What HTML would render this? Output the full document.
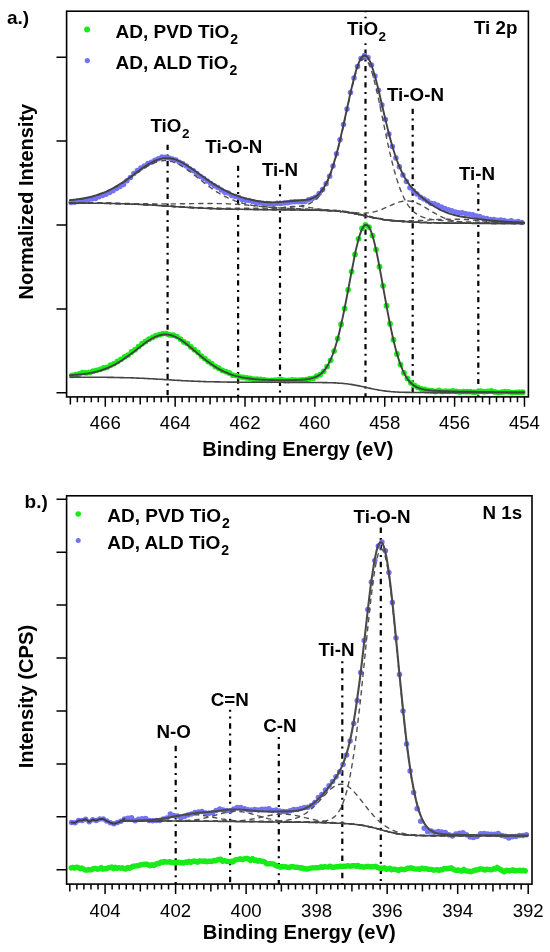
<!DOCTYPE html>
<html><head><meta charset="utf-8"><style>html,body{margin:0;padding:0;background:#fff}svg{display:block}</style></head>
<body><svg width="550" height="952" viewBox="0 0 550 952">
<rect width="550" height="952" fill="#fff"/>
<defs><clipPath id="ca"><rect x="66.6" y="11.2" width="461.8" height="385.7"/></clipPath><clipPath id="cb"><rect x="66.6" y="495.8" width="465.4" height="388.3"/></clipPath></defs>
<g clip-path="url(#ca)">
<line x1="167.60" y1="144.7" x2="167.60" y2="397" stroke="#000" stroke-width="2.2" stroke-dasharray="5.2 4.6 2 4.56" stroke-dashoffset="0"/>
<line x1="238.10" y1="165.8" x2="238.10" y2="397" stroke="#000" stroke-width="2.2" stroke-dasharray="5.2 4.6 2 4.56" stroke-dashoffset="0"/>
<line x1="280.00" y1="184.5" x2="280.00" y2="397" stroke="#000" stroke-width="2.2" stroke-dasharray="5.2 4.6 2 4.56" stroke-dashoffset="0"/>
<line x1="365.50" y1="0.5" x2="365.50" y2="397" stroke="#000" stroke-width="2.2" stroke-dasharray="5.2 4.6 2 4.56" stroke-dashoffset="0"/>
<line x1="412.70" y1="108.7" x2="412.70" y2="397" stroke="#000" stroke-width="2.2" stroke-dasharray="5.2 4.6 2 4.56" stroke-dashoffset="0"/>
<line x1="478.30" y1="184" x2="478.30" y2="397" stroke="#000" stroke-width="2.2" stroke-dasharray="5.2 4.6 2 4.56" stroke-dashoffset="1.4"/>
<g fill="#7272f2"><circle cx="71.1" cy="202.5" r="2.75"/><circle cx="74.6" cy="202.2" r="2.75"/><circle cx="78.1" cy="201.6" r="2.75"/><circle cx="81.5" cy="200.8" r="2.75"/><circle cx="85.0" cy="200.4" r="2.75"/><circle cx="88.5" cy="199.5" r="2.75"/><circle cx="92.0" cy="199.0" r="2.75"/><circle cx="95.5" cy="198.5" r="2.75"/><circle cx="99.0" cy="196.7" r="2.75"/><circle cx="102.5" cy="195.4" r="2.75"/><circle cx="106.0" cy="194.3" r="2.75"/><circle cx="109.5" cy="192.6" r="2.75"/><circle cx="113.0" cy="190.7" r="2.75"/><circle cx="116.5" cy="188.4" r="2.75"/><circle cx="120.0" cy="186.6" r="2.75"/><circle cx="123.5" cy="184.6" r="2.75"/><circle cx="127.0" cy="180.8" r="2.75"/><circle cx="130.4" cy="177.6" r="2.75"/><circle cx="133.9" cy="173.4" r="2.75"/><circle cx="137.4" cy="170.5" r="2.75"/><circle cx="140.9" cy="167.9" r="2.75"/><circle cx="144.4" cy="166.1" r="2.75"/><circle cx="147.9" cy="163.6" r="2.75"/><circle cx="151.4" cy="162.2" r="2.75"/><circle cx="154.9" cy="160.3" r="2.75"/><circle cx="158.4" cy="158.8" r="2.75"/><circle cx="161.9" cy="157.0" r="2.75"/><circle cx="165.4" cy="157.2" r="2.75"/><circle cx="168.9" cy="158.0" r="2.75"/><circle cx="172.4" cy="159.1" r="2.75"/><circle cx="175.9" cy="160.1" r="2.75"/><circle cx="179.4" cy="162.2" r="2.75"/><circle cx="182.8" cy="163.8" r="2.75"/><circle cx="186.3" cy="166.0" r="2.75"/><circle cx="189.8" cy="168.9" r="2.75"/><circle cx="193.3" cy="170.7" r="2.75"/><circle cx="196.8" cy="173.5" r="2.75"/><circle cx="200.3" cy="176.4" r="2.75"/><circle cx="203.8" cy="178.4" r="2.75"/><circle cx="207.3" cy="181.1" r="2.75"/><circle cx="210.8" cy="183.5" r="2.75"/><circle cx="214.3" cy="185.8" r="2.75"/><circle cx="217.8" cy="187.5" r="2.75"/><circle cx="221.3" cy="190.0" r="2.75"/><circle cx="224.8" cy="192.3" r="2.75"/><circle cx="228.3" cy="193.0" r="2.75"/><circle cx="231.7" cy="195.4" r="2.75"/><circle cx="235.2" cy="196.5" r="2.75"/><circle cx="238.7" cy="197.5" r="2.75"/><circle cx="242.2" cy="199.6" r="2.75"/><circle cx="245.7" cy="200.2" r="2.75"/><circle cx="249.2" cy="200.4" r="2.75"/><circle cx="252.7" cy="201.6" r="2.75"/><circle cx="256.2" cy="202.4" r="2.75"/><circle cx="259.7" cy="202.7" r="2.75"/><circle cx="263.2" cy="203.5" r="2.75"/><circle cx="266.7" cy="203.5" r="2.75"/><circle cx="270.2" cy="203.9" r="2.75"/><circle cx="273.7" cy="204.2" r="2.75"/><circle cx="277.2" cy="203.3" r="2.75"/><circle cx="280.6" cy="203.4" r="2.75"/><circle cx="284.1" cy="202.9" r="2.75"/><circle cx="287.6" cy="202.7" r="2.75"/><circle cx="291.1" cy="201.9" r="2.75"/><circle cx="294.6" cy="201.8" r="2.75"/><circle cx="298.1" cy="201.7" r="2.75"/><circle cx="301.6" cy="201.8" r="2.75"/><circle cx="305.1" cy="201.4" r="2.75"/><circle cx="308.6" cy="199.8" r="2.75"/><circle cx="312.1" cy="198.8" r="2.75"/><circle cx="315.6" cy="197.3" r="2.75"/><circle cx="319.1" cy="193.4" r="2.75"/><circle cx="322.6" cy="189.6" r="2.75"/><circle cx="326.1" cy="183.7" r="2.75"/><circle cx="329.6" cy="176.2" r="2.75"/><circle cx="333.0" cy="166.1" r="2.75"/><circle cx="336.5" cy="153.7" r="2.75"/><circle cx="340.0" cy="139.8" r="2.75"/><circle cx="343.5" cy="124.5" r="2.75"/><circle cx="347.0" cy="109.0" r="2.75"/><circle cx="350.5" cy="92.4" r="2.75"/><circle cx="354.0" cy="78.0" r="2.75"/><circle cx="357.5" cy="66.4" r="2.75"/><circle cx="361.0" cy="58.4" r="2.75"/><circle cx="364.5" cy="55.4" r="2.75"/><circle cx="368.0" cy="57.5" r="2.75"/><circle cx="371.5" cy="65.1" r="2.75"/><circle cx="375.0" cy="76.0" r="2.75"/><circle cx="378.5" cy="90.2" r="2.75"/><circle cx="381.9" cy="104.9" r="2.75"/><circle cx="385.4" cy="119.6" r="2.75"/><circle cx="388.9" cy="134.0" r="2.75"/><circle cx="392.4" cy="146.4" r="2.75"/><circle cx="395.9" cy="157.9" r="2.75"/><circle cx="399.4" cy="166.7" r="2.75"/><circle cx="402.9" cy="175.1" r="2.75"/><circle cx="406.4" cy="181.4" r="2.75"/><circle cx="409.9" cy="187.8" r="2.75"/><circle cx="413.4" cy="190.9" r="2.75"/><circle cx="416.9" cy="194.0" r="2.75"/><circle cx="420.4" cy="197.3" r="2.75"/><circle cx="423.9" cy="198.9" r="2.75"/><circle cx="427.4" cy="200.9" r="2.75"/><circle cx="430.8" cy="203.3" r="2.75"/><circle cx="434.3" cy="203.8" r="2.75"/><circle cx="437.8" cy="205.2" r="2.75"/><circle cx="441.3" cy="206.9" r="2.75"/><circle cx="444.8" cy="208.6" r="2.75"/><circle cx="448.3" cy="209.7" r="2.75"/><circle cx="451.8" cy="210.8" r="2.75"/><circle cx="455.3" cy="212.0" r="2.75"/><circle cx="458.8" cy="212.7" r="2.75"/><circle cx="462.3" cy="212.8" r="2.75"/><circle cx="465.8" cy="213.8" r="2.75"/><circle cx="469.3" cy="214.3" r="2.75"/><circle cx="472.8" cy="214.8" r="2.75"/><circle cx="476.3" cy="216.1" r="2.75"/><circle cx="479.7" cy="216.6" r="2.75"/><circle cx="483.2" cy="218.1" r="2.75"/><circle cx="486.7" cy="218.6" r="2.75"/><circle cx="490.2" cy="219.4" r="2.75"/><circle cx="493.7" cy="219.6" r="2.75"/><circle cx="497.2" cy="220.2" r="2.75"/><circle cx="500.7" cy="219.9" r="2.75"/><circle cx="504.2" cy="220.6" r="2.75"/><circle cx="507.7" cy="221.4" r="2.75"/><circle cx="511.2" cy="220.8" r="2.75"/><circle cx="514.7" cy="222.1" r="2.75"/><circle cx="518.2" cy="221.5" r="2.75"/><circle cx="521.7" cy="222.5" r="2.75"/></g>
<polyline points="70.0,202.9 71.4,202.9 72.8,202.9 74.2,202.9 75.6,202.9 77.0,202.9 78.4,202.9 79.8,202.9 81.2,202.9 82.6,202.9 84.0,202.9 85.4,202.9 86.8,202.9 88.2,203.0 89.6,203.0 91.0,203.0 92.4,203.0 93.8,203.0 95.2,203.0 96.6,203.0 98.0,203.0 99.4,203.0 100.8,203.1 102.2,203.1 103.6,203.1 105.0,203.1 106.3,203.1 107.7,203.2 109.1,203.2 110.5,203.2 111.9,203.2 113.3,203.3 114.7,203.3 116.1,203.3 117.5,203.4 118.9,203.4 120.3,203.4 121.7,203.5 123.1,203.5 124.5,203.5 125.9,203.6 127.3,203.6 128.7,203.7 130.1,203.7 131.5,203.8 132.9,203.8 134.3,203.9 135.7,203.9 137.1,204.0 138.5,204.1 139.9,204.1 141.3,204.2 142.7,204.2 144.1,204.3 145.5,204.4 146.9,204.5 148.3,204.5 149.7,204.6 151.1,204.7 152.5,204.8 153.9,204.8 155.2,204.9 156.6,205.0 158.0,205.1 159.4,205.2 160.8,205.3 162.2,205.4 163.6,205.4 165.0,205.5 166.4,205.6 167.8,205.7 169.2,205.8 170.6,205.9 172.0,206.0 173.4,206.1 174.8,206.2 176.2,206.2 177.6,206.3 179.0,206.4 180.4,206.5 181.8,206.6 183.2,206.7 184.6,206.7 186.0,206.8 187.4,206.9 188.8,207.0 190.2,207.0 191.6,207.1 193.0,207.2 194.4,207.2 195.8,207.3 197.2,207.4 198.6,207.4 200.0,207.5 201.4,207.5 202.8,207.6 204.2,207.6 205.5,207.7 206.9,207.7 208.3,207.8 209.7,207.8 211.1,207.9 212.5,207.9 213.9,207.9 215.3,208.0 216.7,208.0 218.1,208.0 219.5,208.1 220.9,208.1 222.3,208.1 223.7,208.1 225.1,208.2 226.5,208.2 227.9,208.2 229.3,208.2 230.7,208.2 232.1,208.3 233.5,208.3 234.9,208.3 236.3,208.3 237.7,208.3 239.1,208.3 240.5,208.3 241.9,208.3 243.3,208.3 244.7,208.3 246.1,208.3 247.5,208.3 248.9,208.3 250.3,208.3 251.7,208.3 253.1,208.3 254.5,208.2 255.8,208.2 257.2,208.2 258.6,208.2 260.0,208.2 261.4,208.2 262.8,208.1 264.2,208.1 265.6,208.1 267.0,208.1 268.4,208.0 269.8,208.0 271.2,208.0 272.6,207.9 274.0,207.9 275.4,207.9 276.8,207.8 278.2,207.8 279.6,207.7 281.0,207.7 282.4,207.6 283.8,207.6 285.2,207.5 286.6,207.4 288.0,207.3 289.4,207.3 290.8,207.2 292.2,207.1 293.6,206.9 295.0,206.8 296.4,206.7 297.8,206.5 299.2,206.3 300.6,206.1 302.0,205.8 303.4,205.5 304.8,205.2 306.1,204.8 307.5,204.3 308.9,203.8 310.3,203.1 311.7,202.4 313.1,201.5 314.5,200.6 315.9,199.5 317.3,198.2 318.7,196.7 320.1,195.0 321.5,193.1 322.9,191.0 324.3,188.6 325.7,186.0 327.1,183.0 328.5,179.8 329.9,176.2 331.3,172.3 332.7,168.1 334.1,163.6 335.5,158.7 336.9,153.6 338.3,148.1 339.7,142.4 341.1,136.4 342.5,130.3 343.9,124.0 345.3,117.6 346.7,111.2 348.1,104.8 349.5,98.5 350.9,92.3 352.3,86.5 353.7,80.9 355.0,75.9 356.4,71.3 357.8,67.3 359.2,64.0 360.6,61.5 362.0,59.7 363.4,58.9 364.8,58.9 366.2,59.8 367.6,61.6 369.0,64.2 370.4,67.6 371.8,71.7 373.2,76.5 374.6,81.8 376.0,87.6 377.4,93.7 378.8,100.2 380.2,106.9 381.6,113.6 383.0,120.5 384.4,127.3 385.8,134.1 387.2,140.7 388.6,147.1 390.0,153.3 391.4,159.2 392.8,164.8 394.2,170.2 395.6,175.1 397.0,179.8 398.4,184.1 399.8,188.0 401.2,191.7 402.6,195.0 404.0,198.0 405.3,200.7 406.7,203.1 408.1,205.3 409.5,207.2 410.9,208.9 412.3,210.4 413.7,211.7 415.1,212.9 416.5,213.9 417.9,214.8 419.3,215.6 420.7,216.2 422.1,216.8 423.5,217.4 424.9,217.8 426.3,218.2 427.7,218.5 429.1,218.9 430.5,219.1 431.9,219.4 433.3,219.6 434.7,219.8 436.1,219.9 437.5,220.1 438.9,220.3 440.3,220.4 441.7,220.5 443.1,220.6 444.5,220.7 445.9,220.8 447.3,220.9 448.7,221.0 450.1,221.1 451.5,221.2 452.9,221.3 454.3,221.3 455.6,221.4 457.0,221.5 458.4,221.5 459.8,221.6 461.2,221.7 462.6,221.7 464.0,221.8 465.4,221.8 466.8,221.9 468.2,221.9 469.6,222.0 471.0,222.0 472.4,222.0 473.8,222.1 475.2,222.1 476.6,222.2 478.0,222.2 479.4,222.2 480.8,222.3 482.2,222.3 483.6,222.3 485.0,222.4 486.4,222.4 487.8,222.4 489.2,222.5 490.6,222.5 492.0,222.5 493.4,222.5 494.8,222.6 496.2,222.6 497.6,222.6 499.0,222.6 500.4,222.7 501.8,222.7 503.2,222.7 504.5,222.7 505.9,222.7 507.3,222.8 508.7,222.8 510.1,222.8 511.5,222.8 512.9,222.8 514.3,222.8 515.7,222.9 517.1,222.9 518.5,222.9 519.9,222.9 521.3,222.9 522.7,222.9 524.1,222.9" fill="none" stroke="#505050" stroke-width="1.4" stroke-linejoin="round" stroke-linecap="round" stroke-dasharray="4.2 5"/>
<polyline points="70.0,200.2 71.4,200.1 72.8,200.0 74.2,199.8 75.6,199.7 77.0,199.5 78.4,199.3 79.8,199.1 81.2,198.9 82.6,198.7 84.0,198.4 85.4,198.2 86.8,197.9 88.2,197.6 89.6,197.3 91.0,197.0 92.4,196.6 93.8,196.2 95.2,195.9 96.6,195.4 98.0,195.0 99.4,194.5 100.8,194.0 102.2,193.5 103.6,193.0 105.0,192.4 106.3,191.8 107.7,191.2 109.1,190.5 110.5,189.9 111.9,189.2 113.3,188.4 114.7,187.7 116.1,186.9 117.5,186.1 118.9,185.3 120.3,184.4 121.7,183.5 123.1,182.6 124.5,181.7 125.9,180.8 127.3,179.9 128.7,178.9 130.1,177.9 131.5,177.0 132.9,176.0 134.3,175.0 135.7,174.0 137.1,173.0 138.5,172.1 139.9,171.1 141.3,170.2 142.7,169.3 144.1,168.3 145.5,167.5 146.9,166.6 148.3,165.8 149.7,165.1 151.1,164.3 152.5,163.7 153.9,163.1 155.2,162.5 156.6,162.0 158.0,161.6 159.4,161.2 160.8,161.0 162.2,160.8 163.6,160.6 165.0,160.6 166.4,160.6 167.8,160.8 169.2,161.0 170.6,161.3 172.0,161.6 173.4,162.1 174.8,162.6 176.2,163.2 177.6,163.8 179.0,164.5 180.4,165.3 181.8,166.1 183.2,167.0 184.6,167.9 186.0,168.9 187.4,169.8 188.8,170.9 190.2,171.9 191.6,173.0 193.0,174.1 194.4,175.2 195.8,176.3 197.2,177.4 198.6,178.5 200.0,179.6 201.4,180.7 202.8,181.8 204.2,182.9 205.5,183.9 206.9,185.0 208.3,186.0 209.7,187.0 211.1,188.0 212.5,189.0 213.9,189.9 215.3,190.9 216.7,191.8 218.1,192.6 219.5,193.5 220.9,194.3 222.3,195.1 223.7,195.8 225.1,196.5 226.5,197.2 227.9,197.9 229.3,198.5 230.7,199.1 232.1,199.7 233.5,200.2 234.9,200.8 236.3,201.3 237.7,201.7 239.1,202.2 240.5,202.6 241.9,203.0 243.3,203.4 244.7,203.7 246.1,204.1 247.5,204.4 248.9,204.7 250.3,204.9 251.7,205.2 253.1,205.4 254.5,205.7 255.8,205.9 257.2,206.1 258.6,206.3 260.0,206.4 261.4,206.6 262.8,206.7 264.2,206.9 265.6,207.0 267.0,207.2 268.4,207.3 269.8,207.4 271.2,207.5 272.6,207.6 274.0,207.7 275.4,207.8 276.8,207.8 278.2,207.9 279.6,208.0 281.0,208.1 282.4,208.1 283.8,208.2 285.2,208.3 286.6,208.3 288.0,208.4 289.4,208.4 290.8,208.5 292.2,208.5 293.6,208.6 295.0,208.6 296.4,208.7 297.8,208.7 299.2,208.8 300.6,208.8 302.0,208.9 303.4,208.9 304.8,209.0 306.1,209.0 307.5,209.0 308.9,209.1 310.3,209.1 311.7,209.2 313.1,209.2 314.5,209.3 315.9,209.3 317.3,209.3 318.7,209.4 320.1,209.4 321.5,209.5 322.9,209.6 324.3,209.6 325.7,209.7 327.1,209.7 328.5,209.8 329.9,209.9 331.3,210.0 332.7,210.1 334.1,210.2 335.5,210.3 336.9,210.4 338.3,210.6 339.7,210.7 341.1,210.9 342.5,211.0 343.9,211.2 345.3,211.4 346.7,211.6 348.1,211.8 349.5,212.0 350.9,212.3 352.3,212.5 353.7,212.8 355.0,213.1 356.4,213.4 357.8,213.7 359.2,214.0 360.6,214.3 362.0,214.6 363.4,214.9 364.8,215.3 366.2,215.6 367.6,215.9 369.0,216.2 370.4,216.5 371.8,216.9 373.2,217.2 374.6,217.4 376.0,217.7 377.4,218.0 378.8,218.3 380.2,218.5 381.6,218.8 383.0,219.0 384.4,219.2 385.8,219.4 387.2,219.6 388.6,219.8 390.0,220.0 391.4,220.1 392.8,220.3 394.2,220.4 395.6,220.6 397.0,220.7 398.4,220.8 399.8,220.9 401.2,221.0 402.6,221.1 404.0,221.2 405.3,221.3 406.7,221.4 408.1,221.5 409.5,221.6 410.9,221.7 412.3,221.7 413.7,221.8 415.1,221.9 416.5,221.9 417.9,222.0 419.3,222.0 420.7,222.1 422.1,222.2 423.5,222.2 424.9,222.3 426.3,222.3 427.7,222.4 429.1,222.4 430.5,222.4 431.9,222.5 433.3,222.5 434.7,222.6 436.1,222.6 437.5,222.6 438.9,222.6 440.3,222.7 441.7,222.7 443.1,222.7 444.5,222.8 445.9,222.8 447.3,222.8 448.7,222.8 450.1,222.9 451.5,222.9 452.9,222.9 454.3,222.9 455.6,222.9 457.0,222.9 458.4,223.0 459.8,223.0 461.2,223.0 462.6,223.0 464.0,223.0 465.4,223.0 466.8,223.1 468.2,223.1 469.6,223.1 471.0,223.1 472.4,223.1 473.8,223.1 475.2,223.1 476.6,223.1 478.0,223.2 479.4,223.2 480.8,223.2 482.2,223.2 483.6,223.2 485.0,223.2 486.4,223.2 487.8,223.2 489.2,223.2 490.6,223.2 492.0,223.2 493.4,223.3 494.8,223.3 496.2,223.3 497.6,223.3 499.0,223.3 500.4,223.3 501.8,223.3 503.2,223.3 504.5,223.3 505.9,223.3 507.3,223.3 508.7,223.3 510.1,223.3 511.5,223.3 512.9,223.3 514.3,223.3 515.7,223.3 517.1,223.3 518.5,223.3 519.9,223.4 521.3,223.4 522.7,223.4 524.1,223.4" fill="none" stroke="#505050" stroke-width="1.4" stroke-linejoin="round" stroke-linecap="round" stroke-dasharray="4.2 5"/>
<polyline points="70.0,203.0 71.4,203.1 72.8,203.1 74.2,203.1 75.6,203.1 77.0,203.1 78.4,203.1 79.8,203.1 81.2,203.1 82.6,203.1 84.0,203.1 85.4,203.1 86.8,203.1 88.2,203.2 89.6,203.2 91.0,203.2 92.4,203.2 93.8,203.2 95.2,203.2 96.6,203.2 98.0,203.3 99.4,203.3 100.8,203.3 102.2,203.3 103.6,203.3 105.0,203.4 106.3,203.4 107.7,203.4 109.1,203.4 110.5,203.5 111.9,203.5 113.3,203.5 114.7,203.5 116.1,203.6 117.5,203.6 118.9,203.6 120.3,203.7 121.7,203.7 123.1,203.8 124.5,203.8 125.9,203.9 127.3,203.9 128.7,204.0 130.1,204.0 131.5,204.1 132.9,204.1 134.3,204.2 135.7,204.2 137.1,204.3 138.5,204.4 139.9,204.4 141.3,204.5 142.7,204.6 144.1,204.6 145.5,204.7 146.9,204.8 148.3,204.9 149.7,204.9 151.1,205.0 152.5,205.1 153.9,205.2 155.2,205.3 156.6,205.4 158.0,205.5 159.4,205.6 160.8,205.6 162.2,205.7 163.6,205.8 165.0,205.9 166.4,206.0 167.8,206.1 169.2,206.2 170.6,206.3 172.0,206.4 173.4,206.5 174.8,206.6 176.2,206.7 177.6,206.8 179.0,206.9 180.4,207.0 181.8,207.0 183.2,207.1 184.6,207.2 186.0,207.3 187.4,207.4 188.8,207.5 190.2,207.5 191.6,207.6 193.0,207.7 194.4,207.8 195.8,207.8 197.2,207.9 198.6,208.0 200.0,208.1 201.4,208.1 202.8,208.2 204.2,208.2 205.5,208.3 206.9,208.4 208.3,208.4 209.7,208.5 211.1,208.5 212.5,208.6 213.9,208.6 215.3,208.7 216.7,208.7 218.1,208.8 219.5,208.8 220.9,208.8 222.3,208.9 223.7,208.9 225.1,209.0 226.5,209.0 227.9,209.0 229.3,209.1 230.7,209.1 232.1,209.1 233.5,209.2 234.9,209.2 236.3,209.2 237.7,209.2 239.1,209.3 240.5,209.3 241.9,209.3 243.3,209.3 244.7,209.4 246.1,209.4 247.5,209.4 248.9,209.4 250.3,209.4 251.7,209.5 253.1,209.5 254.5,209.5 255.8,209.5 257.2,209.5 258.6,209.6 260.0,209.6 261.4,209.6 262.8,209.6 264.2,209.6 265.6,209.6 267.0,209.6 268.4,209.7 269.8,209.7 271.2,209.7 272.6,209.7 274.0,209.7 275.4,209.7 276.8,209.7 278.2,209.8 279.6,209.8 281.0,209.8 282.4,209.8 283.8,209.8 285.2,209.8 286.6,209.9 288.0,209.9 289.4,209.9 290.8,209.9 292.2,209.9 293.6,209.9 295.0,210.0 296.4,210.0 297.8,210.0 299.2,210.0 300.6,210.0 302.0,210.1 303.4,210.1 304.8,210.1 306.1,210.1 307.5,210.1 308.9,210.2 310.3,210.2 311.7,210.2 313.1,210.2 314.5,210.2 315.9,210.3 317.3,210.3 318.7,210.3 320.1,210.4 321.5,210.4 322.9,210.4 324.3,210.5 325.7,210.5 327.1,210.6 328.5,210.6 329.9,210.7 331.3,210.8 332.7,210.8 334.1,210.9 335.5,211.0 336.9,211.1 338.3,211.2 339.7,211.3 341.1,211.4 342.5,211.5 343.9,211.7 345.3,211.8 346.7,211.9 348.1,212.1 349.5,212.2 350.9,212.3 352.3,212.5 353.7,212.6 355.0,212.7 356.4,212.8 357.8,212.9 359.2,213.0 360.6,213.0 362.0,213.1 363.4,213.1 364.8,213.1 366.2,213.0 367.6,212.9 369.0,212.7 370.4,212.6 371.8,212.3 373.2,212.0 374.6,211.7 376.0,211.3 377.4,210.9 378.8,210.5 380.2,210.0 381.6,209.4 383.0,208.8 384.4,208.2 385.8,207.6 387.2,207.0 388.6,206.3 390.0,205.7 391.4,205.1 392.8,204.5 394.2,203.9 395.6,203.3 397.0,202.8 398.4,202.3 399.8,201.9 401.2,201.6 402.6,201.3 404.0,201.1 405.3,201.0 406.7,200.9 408.1,201.0 409.5,201.1 410.9,201.3 412.3,201.6 413.7,202.0 415.1,202.5 416.5,203.0 417.9,203.6 419.3,204.2 420.7,204.9 422.1,205.7 423.5,206.5 424.9,207.3 426.3,208.1 427.7,209.0 429.1,209.9 430.5,210.7 431.9,211.6 433.3,212.4 434.7,213.2 436.1,214.0 437.5,214.8 438.9,215.6 440.3,216.3 441.7,216.9 443.1,217.6 444.5,218.1 445.9,218.7 447.3,219.2 448.7,219.7 450.1,220.1 451.5,220.5 452.9,220.8 454.3,221.1 455.6,221.4 457.0,221.7 458.4,221.9 459.8,222.1 461.2,222.3 462.6,222.5 464.0,222.6 465.4,222.7 466.8,222.8 468.2,222.9 469.6,223.0 471.0,223.1 472.4,223.1 473.8,223.2 475.2,223.2 476.6,223.3 478.0,223.3 479.4,223.3 480.8,223.3 482.2,223.4 483.6,223.4 485.0,223.4 486.4,223.4 487.8,223.4 489.2,223.4 490.6,223.4 492.0,223.5 493.4,223.5 494.8,223.5 496.2,223.5 497.6,223.5 499.0,223.5 500.4,223.5 501.8,223.5 503.2,223.5 504.5,223.5 505.9,223.5 507.3,223.5 508.7,223.5 510.1,223.5 511.5,223.5 512.9,223.5 514.3,223.5 515.7,223.5 517.1,223.5 518.5,223.5 519.9,223.5 521.3,223.5 522.7,223.5 524.1,223.5" fill="none" stroke="#505050" stroke-width="1.4" stroke-linejoin="round" stroke-linecap="round" stroke-dasharray="4.2 5"/>
<polyline points="70.0,203.0 71.4,203.0 72.8,203.1 74.2,203.1 75.6,203.1 77.0,203.1 78.4,203.1 79.8,203.1 81.2,203.1 82.6,203.1 84.0,203.1 85.4,203.1 86.8,203.1 88.2,203.1 89.6,203.1 91.0,203.1 92.4,203.2 93.8,203.2 95.2,203.2 96.6,203.2 98.0,203.2 99.4,203.2 100.8,203.2 102.2,203.2 103.6,203.2 105.0,203.3 106.3,203.3 107.7,203.3 109.1,203.3 110.5,203.3 111.9,203.3 113.3,203.3 114.7,203.4 116.1,203.4 117.5,203.4 118.9,203.4 120.3,203.4 121.7,203.4 123.1,203.5 124.5,203.5 125.9,203.5 127.3,203.5 128.7,203.5 130.1,203.6 131.5,203.6 132.9,203.6 134.3,203.6 135.7,203.6 137.1,203.7 138.5,203.7 139.9,203.7 141.3,203.7 142.7,203.7 144.1,203.8 145.5,203.8 146.9,203.8 148.3,203.8 149.7,203.8 151.1,203.8 152.5,203.8 153.9,203.9 155.2,203.9 156.6,203.9 158.0,203.9 159.4,203.9 160.8,203.9 162.2,203.9 163.6,203.9 165.0,203.9 166.4,203.9 167.8,203.9 169.2,203.9 170.6,203.9 172.0,203.9 173.4,203.9 174.8,203.9 176.2,203.9 177.6,203.8 179.0,203.8 180.4,203.8 181.8,203.8 183.2,203.8 184.6,203.8 186.0,203.7 187.4,203.7 188.8,203.7 190.2,203.7 191.6,203.6 193.0,203.6 194.4,203.6 195.8,203.6 197.2,203.6 198.6,203.5 200.0,203.5 201.4,203.5 202.8,203.5 204.2,203.5 205.5,203.5 206.9,203.5 208.3,203.5 209.7,203.5 211.1,203.5 212.5,203.5 213.9,203.5 215.3,203.5 216.7,203.5 218.1,203.6 219.5,203.6 220.9,203.6 222.3,203.7 223.7,203.7 225.1,203.8 226.5,203.8 227.9,203.9 229.3,203.9 230.7,204.0 232.1,204.1 233.5,204.1 234.9,204.2 236.3,204.3 237.7,204.4 239.1,204.5 240.5,204.6 241.9,204.7 243.3,204.8 244.7,204.9 246.1,205.0 247.5,205.1 248.9,205.2 250.3,205.3 251.7,205.4 253.1,205.5 254.5,205.7 255.8,205.8 257.2,205.9 258.6,206.0 260.0,206.1 261.4,206.3 262.8,206.4 264.2,206.5 265.6,206.6 267.0,206.8 268.4,206.9 269.8,207.0 271.2,207.1 272.6,207.2 274.0,207.3 275.4,207.5 276.8,207.6 278.2,207.7 279.6,207.8 281.0,207.9 282.4,208.0 283.8,208.1 285.2,208.2 286.6,208.3 288.0,208.4 289.4,208.5 290.8,208.6 292.2,208.7 293.6,208.8 295.0,208.9 296.4,208.9 297.8,209.0 299.2,209.1 300.6,209.2 302.0,209.2 303.4,209.3 304.8,209.4 306.1,209.4 307.5,209.5 308.9,209.6 310.3,209.6 311.7,209.7 313.1,209.8 314.5,209.8 315.9,209.9 317.3,209.9 318.7,210.0 320.1,210.0 321.5,210.1 322.9,210.2 324.3,210.2 325.7,210.3 327.1,210.4 328.5,210.5 329.9,210.5 331.3,210.6 332.7,210.7 334.1,210.8 335.5,210.9 336.9,211.1 338.3,211.2 339.7,211.3 341.1,211.5 342.5,211.7 343.9,211.8 345.3,212.0 346.7,212.2 348.1,212.4 349.5,212.7 350.9,212.9 352.3,213.2 353.7,213.4 355.0,213.7 356.4,214.0 357.8,214.3 359.2,214.6 360.6,214.9 362.0,215.2 363.4,215.5 364.8,215.8 366.2,216.1 367.6,216.4 369.0,216.8 370.4,217.1 371.8,217.4 373.2,217.7 374.6,218.0 376.0,218.2 377.4,218.5 378.8,218.8 380.2,219.0 381.6,219.2 383.0,219.5 384.4,219.7 385.8,219.9 387.2,220.1 388.6,220.2 390.0,220.4 391.4,220.6 392.8,220.7 394.2,220.9 395.6,221.0 397.0,221.1 398.4,221.2 399.8,221.3 401.2,221.4 402.6,221.5 404.0,221.6 405.3,221.7 406.7,221.8 408.1,221.9 409.5,222.0 410.9,222.0 412.3,222.1 413.7,222.2 415.1,222.2 416.5,222.3 417.9,222.3 419.3,222.4 420.7,222.5 422.1,222.5 423.5,222.6 424.9,222.6 426.3,222.6 427.7,222.7 429.1,222.7 430.5,222.8 431.9,222.8 433.3,222.8 434.7,222.9 436.1,222.9 437.5,222.9 438.9,223.0 440.3,223.0 441.7,223.0 443.1,223.0 444.5,223.1 445.9,223.1 447.3,223.1 448.7,223.1 450.1,223.1 451.5,223.2 452.9,223.2 454.3,223.2 455.6,223.2 457.0,223.2 458.4,223.2 459.8,223.2 461.2,223.3 462.6,223.3 464.0,223.3 465.4,223.3 466.8,223.3 468.2,223.3 469.6,223.3 471.0,223.3 472.4,223.4 473.8,223.4 475.2,223.4 476.6,223.4 478.0,223.4 479.4,223.4 480.8,223.4 482.2,223.4 483.6,223.4 485.0,223.4 486.4,223.4 487.8,223.4 489.2,223.4 490.6,223.5 492.0,223.5 493.4,223.5 494.8,223.5 496.2,223.5 497.6,223.5 499.0,223.5 500.4,223.5 501.8,223.5 503.2,223.5 504.5,223.5 505.9,223.5 507.3,223.5 508.7,223.5 510.1,223.5 511.5,223.5 512.9,223.5 514.3,223.5 515.7,223.5 517.1,223.5 518.5,223.5 519.9,223.5 521.3,223.5 522.7,223.5 524.1,223.5" fill="none" stroke="#505050" stroke-width="1.4" stroke-linejoin="round" stroke-linecap="round" stroke-dasharray="4.2 5"/>
<polyline points="70.0,203.0 71.4,203.1 72.8,203.1 74.2,203.1 75.6,203.1 77.0,203.1 78.4,203.1 79.8,203.1 81.2,203.1 82.6,203.1 84.0,203.1 85.4,203.1 86.8,203.1 88.2,203.2 89.6,203.2 91.0,203.2 92.4,203.2 93.8,203.2 95.2,203.2 96.6,203.2 98.0,203.3 99.4,203.3 100.8,203.3 102.2,203.3 103.6,203.3 105.0,203.4 106.3,203.4 107.7,203.4 109.1,203.4 110.5,203.5 111.9,203.5 113.3,203.5 114.7,203.5 116.1,203.6 117.5,203.6 118.9,203.6 120.3,203.7 121.7,203.7 123.1,203.8 124.5,203.8 125.9,203.9 127.3,203.9 128.7,204.0 130.1,204.0 131.5,204.1 132.9,204.1 134.3,204.2 135.7,204.2 137.1,204.3 138.5,204.4 139.9,204.4 141.3,204.5 142.7,204.6 144.1,204.6 145.5,204.7 146.9,204.8 148.3,204.9 149.7,204.9 151.1,205.0 152.5,205.1 153.9,205.2 155.2,205.3 156.6,205.4 158.0,205.5 159.4,205.6 160.8,205.6 162.2,205.7 163.6,205.8 165.0,205.9 166.4,206.0 167.8,206.1 169.2,206.2 170.6,206.3 172.0,206.4 173.4,206.5 174.8,206.6 176.2,206.7 177.6,206.8 179.0,206.9 180.4,207.0 181.8,207.0 183.2,207.1 184.6,207.2 186.0,207.3 187.4,207.4 188.8,207.5 190.2,207.5 191.6,207.6 193.0,207.7 194.4,207.8 195.8,207.8 197.2,207.9 198.6,208.0 200.0,208.1 201.4,208.1 202.8,208.2 204.2,208.2 205.5,208.3 206.9,208.4 208.3,208.4 209.7,208.5 211.1,208.5 212.5,208.6 213.9,208.6 215.3,208.7 216.7,208.7 218.1,208.8 219.5,208.8 220.9,208.8 222.3,208.9 223.7,208.9 225.1,209.0 226.5,209.0 227.9,209.0 229.3,209.1 230.7,209.1 232.1,209.1 233.5,209.2 234.9,209.2 236.3,209.2 237.7,209.2 239.1,209.3 240.5,209.3 241.9,209.3 243.3,209.3 244.7,209.4 246.1,209.4 247.5,209.4 248.9,209.4 250.3,209.4 251.7,209.5 253.1,209.5 254.5,209.5 255.8,209.5 257.2,209.5 258.6,209.6 260.0,209.6 261.4,209.6 262.8,209.6 264.2,209.6 265.6,209.6 267.0,209.6 268.4,209.7 269.8,209.7 271.2,209.7 272.6,209.7 274.0,209.7 275.4,209.7 276.8,209.7 278.2,209.8 279.6,209.8 281.0,209.8 282.4,209.8 283.8,209.8 285.2,209.8 286.6,209.9 288.0,209.9 289.4,209.9 290.8,209.9 292.2,209.9 293.6,209.9 295.0,210.0 296.4,210.0 297.8,210.0 299.2,210.0 300.6,210.0 302.0,210.1 303.4,210.1 304.8,210.1 306.1,210.1 307.5,210.1 308.9,210.2 310.3,210.2 311.7,210.2 313.1,210.2 314.5,210.2 315.9,210.3 317.3,210.3 318.7,210.3 320.1,210.4 321.5,210.4 322.9,210.4 324.3,210.5 325.7,210.5 327.1,210.6 328.5,210.6 329.9,210.7 331.3,210.8 332.7,210.9 334.1,211.0 335.5,211.1 336.9,211.2 338.3,211.3 339.7,211.4 341.1,211.6 342.5,211.7 343.9,211.9 345.3,212.1 346.7,212.3 348.1,212.5 349.5,212.7 350.9,212.9 352.3,213.2 353.7,213.4 355.0,213.7 356.4,214.0 357.8,214.3 359.2,214.6 360.6,214.9 362.0,215.2 363.4,215.5 364.8,215.8 366.2,216.1 367.6,216.4 369.0,216.7 370.4,217.0 371.8,217.3 373.2,217.6 374.6,217.9 376.0,218.1 377.4,218.4 378.8,218.6 380.2,218.9 381.6,219.1 383.0,219.3 384.4,219.5 385.8,219.6 387.2,219.8 388.6,219.9 390.0,220.1 391.4,220.2 392.8,220.3 394.2,220.4 395.6,220.5 397.0,220.6 398.4,220.6 399.8,220.7 401.2,220.7 402.6,220.7 404.0,220.8 405.3,220.8 406.7,220.8 408.1,220.8 409.5,220.7 410.9,220.7 412.3,220.7 413.7,220.7 415.1,220.6 416.5,220.6 417.9,220.5 419.3,220.5 420.7,220.4 422.1,220.4 423.5,220.3 424.9,220.2 426.3,220.1 427.7,220.1 429.1,220.0 430.5,219.9 431.9,219.8 433.3,219.8 434.7,219.7 436.1,219.6 437.5,219.5 438.9,219.5 440.3,219.4 441.7,219.4 443.1,219.3 444.5,219.3 445.9,219.2 447.3,219.2 448.7,219.2 450.1,219.2 451.5,219.2 452.9,219.2 454.3,219.2 455.6,219.2 457.0,219.2 458.4,219.2 459.8,219.3 461.2,219.3 462.6,219.4 464.0,219.5 465.4,219.5 466.8,219.6 468.2,219.7 469.6,219.8 471.0,219.9 472.4,220.0 473.8,220.1 475.2,220.2 476.6,220.4 478.0,220.5 479.4,220.6 480.8,220.7 482.2,220.9 483.6,221.0 485.0,221.1 486.4,221.2 487.8,221.3 489.2,221.5 490.6,221.6 492.0,221.7 493.4,221.8 494.8,221.9 496.2,222.0 497.6,222.1 499.0,222.2 500.4,222.3 501.8,222.4 503.2,222.5 504.5,222.6 505.9,222.7 507.3,222.7 508.7,222.8 510.1,222.9 511.5,222.9 512.9,223.0 514.3,223.0 515.7,223.1 517.1,223.1 518.5,223.2 519.9,223.2 521.3,223.2 522.7,223.3 524.1,223.3" fill="none" stroke="#505050" stroke-width="1.4" stroke-linejoin="round" stroke-linecap="round" stroke-dasharray="4.2 5"/>
<polyline points="70.0,203.0 71.4,203.1 72.8,203.1 74.2,203.1 75.6,203.1 77.0,203.1 78.4,203.1 79.8,203.1 81.2,203.1 82.6,203.1 84.0,203.1 85.4,203.1 86.8,203.1 88.2,203.2 89.6,203.2 91.0,203.2 92.4,203.2 93.8,203.2 95.2,203.2 96.6,203.2 98.0,203.3 99.4,203.3 100.8,203.3 102.2,203.3 103.6,203.3 105.0,203.4 106.3,203.4 107.7,203.4 109.1,203.4 110.5,203.5 111.9,203.5 113.3,203.5 114.7,203.5 116.1,203.6 117.5,203.6 118.9,203.6 120.3,203.7 121.7,203.7 123.1,203.8 124.5,203.8 125.9,203.9 127.3,203.9 128.7,204.0 130.1,204.0 131.5,204.1 132.9,204.1 134.3,204.2 135.7,204.2 137.1,204.3 138.5,204.4 139.9,204.4 141.3,204.5 142.7,204.6 144.1,204.6 145.5,204.7 146.9,204.8 148.3,204.9 149.7,204.9 151.1,205.0 152.5,205.1 153.9,205.2 155.2,205.3 156.6,205.4 158.0,205.5 159.4,205.6 160.8,205.6 162.2,205.7 163.6,205.8 165.0,205.9 166.4,206.0 167.8,206.1 169.2,206.2 170.6,206.3 172.0,206.4 173.4,206.5 174.8,206.6 176.2,206.7 177.6,206.8 179.0,206.9 180.4,207.0 181.8,207.0 183.2,207.1 184.6,207.2 186.0,207.3 187.4,207.4 188.8,207.5 190.2,207.5 191.6,207.6 193.0,207.7 194.4,207.8 195.8,207.8 197.2,207.9 198.6,208.0 200.0,208.1 201.4,208.1 202.8,208.2 204.2,208.2 205.5,208.3 206.9,208.4 208.3,208.4 209.7,208.5 211.1,208.5 212.5,208.6 213.9,208.6 215.3,208.7 216.7,208.7 218.1,208.8 219.5,208.8 220.9,208.8 222.3,208.9 223.7,208.9 225.1,209.0 226.5,209.0 227.9,209.0 229.3,209.1 230.7,209.1 232.1,209.1 233.5,209.2 234.9,209.2 236.3,209.2 237.7,209.2 239.1,209.3 240.5,209.3 241.9,209.3 243.3,209.3 244.7,209.4 246.1,209.4 247.5,209.4 248.9,209.4 250.3,209.4 251.7,209.4 253.1,209.4 254.5,209.4 255.8,209.4 257.2,209.4 258.6,209.4 260.0,209.4 261.4,209.4 262.8,209.3 264.2,209.3 265.6,209.2 267.0,209.2 268.4,209.1 269.8,209.0 271.2,208.9 272.6,208.8 274.0,208.6 275.4,208.5 276.8,208.3 278.2,208.1 279.6,207.9 281.0,207.8 282.4,207.6 283.8,207.4 285.2,207.2 286.6,207.0 288.0,206.9 289.4,206.7 290.8,206.6 292.2,206.5 293.6,206.4 295.0,206.3 296.4,206.3 297.8,206.3 299.2,206.4 300.6,206.4 302.0,206.5 303.4,206.7 304.8,206.8 306.1,207.0 307.5,207.2 308.9,207.4 310.3,207.6 311.7,207.9 313.1,208.1 314.5,208.3 315.9,208.5 317.3,208.8 318.7,209.0 320.1,209.2 321.5,209.4 322.9,209.6 324.3,209.7 325.7,209.9 327.1,210.1 328.5,210.2 329.9,210.4 331.3,210.5 332.7,210.6 334.1,210.8 335.5,210.9 336.9,211.1 338.3,211.2 339.7,211.4 341.1,211.5 342.5,211.7 343.9,211.9 345.3,212.1 346.7,212.3 348.1,212.5 349.5,212.7 350.9,212.9 352.3,213.2 353.7,213.4 355.0,213.7 356.4,214.0 357.8,214.3 359.2,214.6 360.6,214.9 362.0,215.2 363.4,215.5 364.8,215.8 366.2,216.1 367.6,216.5 369.0,216.8 370.4,217.1 371.8,217.4 373.2,217.7 374.6,218.0 376.0,218.2 377.4,218.5 378.8,218.8 380.2,219.0 381.6,219.2 383.0,219.5 384.4,219.7 385.8,219.9 387.2,220.1 388.6,220.2 390.0,220.4 391.4,220.6 392.8,220.7 394.2,220.9 395.6,221.0 397.0,221.1 398.4,221.2 399.8,221.3 401.2,221.4 402.6,221.5 404.0,221.6 405.3,221.7 406.7,221.8 408.1,221.9 409.5,222.0 410.9,222.0 412.3,222.1 413.7,222.2 415.1,222.2 416.5,222.3 417.9,222.3 419.3,222.4 420.7,222.5 422.1,222.5 423.5,222.6 424.9,222.6 426.3,222.6 427.7,222.7 429.1,222.7 430.5,222.8 431.9,222.8 433.3,222.8 434.7,222.9 436.1,222.9 437.5,222.9 438.9,223.0 440.3,223.0 441.7,223.0 443.1,223.0 444.5,223.1 445.9,223.1 447.3,223.1 448.7,223.1 450.1,223.1 451.5,223.2 452.9,223.2 454.3,223.2 455.6,223.2 457.0,223.2 458.4,223.2 459.8,223.2 461.2,223.3 462.6,223.3 464.0,223.3 465.4,223.3 466.8,223.3 468.2,223.3 469.6,223.3 471.0,223.3 472.4,223.4 473.8,223.4 475.2,223.4 476.6,223.4 478.0,223.4 479.4,223.4 480.8,223.4 482.2,223.4 483.6,223.4 485.0,223.4 486.4,223.4 487.8,223.4 489.2,223.4 490.6,223.5 492.0,223.5 493.4,223.5 494.8,223.5 496.2,223.5 497.6,223.5 499.0,223.5 500.4,223.5 501.8,223.5 503.2,223.5 504.5,223.5 505.9,223.5 507.3,223.5 508.7,223.5 510.1,223.5 511.5,223.5 512.9,223.5 514.3,223.5 515.7,223.5 517.1,223.5 518.5,223.5 519.9,223.5 521.3,223.5 522.7,223.5 524.1,223.5" fill="none" stroke="#505050" stroke-width="1.4" stroke-linejoin="round" stroke-linecap="round" stroke-dasharray="4.2 5"/>
<polyline points="70.0,203.0 71.4,203.1 72.8,203.1 74.2,203.1 75.6,203.1 77.0,203.1 78.4,203.1 79.8,203.1 81.2,203.1 82.6,203.1 84.0,203.1 85.4,203.1 86.8,203.1 88.2,203.2 89.6,203.2 91.0,203.2 92.4,203.2 93.8,203.2 95.2,203.2 96.6,203.2 98.0,203.3 99.4,203.3 100.8,203.3 102.2,203.3 103.6,203.3 105.0,203.4 106.3,203.4 107.7,203.4 109.1,203.4 110.5,203.5 111.9,203.5 113.3,203.5 114.7,203.5 116.1,203.6 117.5,203.6 118.9,203.6 120.3,203.7 121.7,203.7 123.1,203.8 124.5,203.8 125.9,203.9 127.3,203.9 128.7,204.0 130.1,204.0 131.5,204.1 132.9,204.1 134.3,204.2 135.7,204.2 137.1,204.3 138.5,204.4 139.9,204.4 141.3,204.5 142.7,204.6 144.1,204.6 145.5,204.7 146.9,204.8 148.3,204.9 149.7,204.9 151.1,205.0 152.5,205.1 153.9,205.2 155.2,205.3 156.6,205.4 158.0,205.5 159.4,205.6 160.8,205.6 162.2,205.7 163.6,205.8 165.0,205.9 166.4,206.0 167.8,206.1 169.2,206.2 170.6,206.3 172.0,206.4 173.4,206.5 174.8,206.6 176.2,206.7 177.6,206.8 179.0,206.9 180.4,207.0 181.8,207.0 183.2,207.1 184.6,207.2 186.0,207.3 187.4,207.4 188.8,207.5 190.2,207.5 191.6,207.6 193.0,207.7 194.4,207.8 195.8,207.8 197.2,207.9 198.6,208.0 200.0,208.1 201.4,208.1 202.8,208.2 204.2,208.2 205.5,208.3 206.9,208.4 208.3,208.4 209.7,208.5 211.1,208.5 212.5,208.6 213.9,208.6 215.3,208.7 216.7,208.7 218.1,208.8 219.5,208.8 220.9,208.8 222.3,208.9 223.7,208.9 225.1,209.0 226.5,209.0 227.9,209.0 229.3,209.1 230.7,209.1 232.1,209.1 233.5,209.2 234.9,209.2 236.3,209.2 237.7,209.2 239.1,209.3 240.5,209.3 241.9,209.3 243.3,209.3 244.7,209.4 246.1,209.4 247.5,209.4 248.9,209.4 250.3,209.4 251.7,209.5 253.1,209.5 254.5,209.5 255.8,209.5 257.2,209.5 258.6,209.6 260.0,209.6 261.4,209.6 262.8,209.6 264.2,209.6 265.6,209.6 267.0,209.6 268.4,209.7 269.8,209.7 271.2,209.7 272.6,209.7 274.0,209.7 275.4,209.7 276.8,209.7 278.2,209.8 279.6,209.8 281.0,209.8 282.4,209.8 283.8,209.8 285.2,209.8 286.6,209.9 288.0,209.9 289.4,209.9 290.8,209.9 292.2,209.9 293.6,209.9 295.0,210.0 296.4,210.0 297.8,210.0 299.2,210.0 300.6,210.0 302.0,210.1 303.4,210.1 304.8,210.1 306.1,210.1 307.5,210.1 308.9,210.2 310.3,210.2 311.7,210.2 313.1,210.2 314.5,210.2 315.9,210.3 317.3,210.3 318.7,210.3 320.1,210.4 321.5,210.4 322.9,210.4 324.3,210.5 325.7,210.5 327.1,210.6 328.5,210.6 329.9,210.7 331.3,210.8 332.7,210.9 334.1,211.0 335.5,211.1 336.9,211.2 338.3,211.3 339.7,211.4 341.1,211.6 342.5,211.7 343.9,211.9 345.3,212.1 346.7,212.3 348.1,212.5 349.5,212.7 350.9,212.9 352.3,213.2 353.7,213.4 355.0,213.7 356.4,214.0 357.8,214.3 359.2,214.6 360.6,214.9 362.0,215.2 363.4,215.5 364.8,215.8 366.2,216.1 367.6,216.5 369.0,216.8 370.4,217.1 371.8,217.4 373.2,217.7 374.6,218.0 376.0,218.2 377.4,218.5 378.8,218.8 380.2,219.0 381.6,219.2 383.0,219.5 384.4,219.7 385.8,219.9 387.2,220.1 388.6,220.2 390.0,220.4 391.4,220.6 392.8,220.7 394.2,220.9 395.6,221.0 397.0,221.1 398.4,221.2 399.8,221.3 401.2,221.4 402.6,221.5 404.0,221.6 405.3,221.7 406.7,221.8 408.1,221.9 409.5,222.0 410.9,222.0 412.3,222.1 413.7,222.2 415.1,222.2 416.5,222.3 417.9,222.3 419.3,222.4 420.7,222.5 422.1,222.5 423.5,222.6 424.9,222.6 426.3,222.6 427.7,222.7 429.1,222.7 430.5,222.8 431.9,222.8 433.3,222.8 434.7,222.9 436.1,222.9 437.5,222.9 438.9,223.0 440.3,223.0 441.7,223.0 443.1,223.0 444.5,223.1 445.9,223.1 447.3,223.1 448.7,223.1 450.1,223.1 451.5,223.2 452.9,223.2 454.3,223.2 455.6,223.2 457.0,223.2 458.4,223.2 459.8,223.2 461.2,223.3 462.6,223.3 464.0,223.3 465.4,223.3 466.8,223.3 468.2,223.3 469.6,223.3 471.0,223.3 472.4,223.4 473.8,223.4 475.2,223.4 476.6,223.4 478.0,223.4 479.4,223.4 480.8,223.4 482.2,223.4 483.6,223.4 485.0,223.4 486.4,223.4 487.8,223.4 489.2,223.4 490.6,223.5 492.0,223.5 493.4,223.5 494.8,223.5 496.2,223.5 497.6,223.5 499.0,223.5 500.4,223.5 501.8,223.5 503.2,223.5 504.5,223.5 505.9,223.5 507.3,223.5 508.7,223.5 510.1,223.5 511.5,223.5 512.9,223.5 514.3,223.5 515.7,223.5 517.1,223.5 518.5,223.5 519.9,223.5 521.3,223.5 522.7,223.5 524.1,223.5" fill="none" stroke="#444" stroke-width="1.6" stroke-linejoin="round" stroke-linecap="round" />
<polyline points="70.0,200.1 71.4,199.9 72.8,199.8 74.2,199.6 75.6,199.5 77.0,199.3 78.4,199.1 79.8,198.9 81.2,198.7 82.6,198.5 84.0,198.2 85.4,198.0 86.8,197.7 88.2,197.4 89.6,197.1 91.0,196.7 92.4,196.4 93.8,196.0 95.2,195.6 96.6,195.2 98.0,194.7 99.4,194.2 100.8,193.7 102.2,193.2 103.6,192.7 105.0,192.1 106.3,191.5 107.7,190.8 109.1,190.2 110.5,189.5 111.9,188.8 113.3,188.0 114.7,187.2 116.1,186.4 117.5,185.6 118.9,184.8 120.3,183.9 121.7,183.0 123.1,182.1 124.5,181.1 125.9,180.2 127.3,179.2 128.7,178.2 130.1,177.2 131.5,176.2 132.9,175.2 134.3,174.2 135.7,173.1 137.1,172.1 138.5,171.1 139.9,170.1 141.3,169.1 142.7,168.1 144.1,167.1 145.5,166.2 146.9,165.3 148.3,164.4 149.7,163.6 151.1,162.8 152.5,162.1 153.9,161.4 155.2,160.7 156.6,160.2 158.0,159.7 159.4,159.2 160.8,158.8 162.2,158.6 163.6,158.3 165.0,158.2 166.4,158.1 167.8,158.2 169.2,158.3 170.6,158.4 172.0,158.7 173.4,159.0 174.8,159.4 176.2,159.9 177.6,160.4 179.0,161.0 180.4,161.7 181.8,162.4 183.2,163.1 184.6,164.0 186.0,164.8 187.4,165.7 188.8,166.6 190.2,167.5 191.6,168.5 193.0,169.5 194.4,170.4 195.8,171.4 197.2,172.5 198.6,173.5 200.0,174.5 201.4,175.5 202.8,176.5 204.2,177.5 205.5,178.5 206.9,179.5 208.3,180.4 209.7,181.4 211.1,182.3 212.5,183.2 213.9,184.1 215.3,185.0 216.7,185.9 218.1,186.7 219.5,187.5 220.9,188.3 222.3,189.1 223.7,189.8 225.1,190.5 226.5,191.2 227.9,191.9 229.3,192.5 230.7,193.2 232.1,193.8 233.5,194.3 234.9,194.9 236.3,195.4 237.7,195.9 239.1,196.4 240.5,196.9 241.9,197.3 243.3,197.7 244.7,198.2 246.1,198.5 247.5,198.9 248.9,199.3 250.3,199.6 251.7,199.9 253.1,200.2 254.5,200.5 255.8,200.8 257.2,201.0 258.6,201.2 260.0,201.5 261.4,201.6 262.8,201.8 264.2,202.0 265.6,202.1 267.0,202.2 268.4,202.3 269.8,202.3 271.2,202.4 272.6,202.4 274.0,202.4 275.4,202.4 276.8,202.3 278.2,202.2 279.6,202.1 281.0,202.0 282.4,201.9 283.8,201.8 285.2,201.6 286.6,201.5 288.0,201.4 289.4,201.2 290.8,201.1 292.2,201.0 293.6,200.9 295.0,200.8 296.4,200.7 297.8,200.6 299.2,200.5 300.6,200.4 302.0,200.3 303.4,200.2 304.8,200.1 306.1,199.9 307.5,199.7 308.9,199.4 310.3,199.0 311.7,198.5 313.1,197.9 314.5,197.2 315.9,196.4 317.3,195.3 318.7,194.1 320.1,192.6 321.5,190.9 322.9,189.0 324.3,186.8 325.7,184.3 327.1,181.4 328.5,178.3 329.9,174.8 331.3,171.0 332.7,166.9 334.1,162.4 335.5,157.6 336.9,152.5 338.3,147.1 339.7,141.4 341.1,135.4 342.5,129.3 343.9,123.0 345.3,116.5 346.7,110.1 348.1,103.6 349.5,97.2 350.9,91.0 352.3,85.1 353.7,79.4 355.0,74.2 356.4,69.4 357.8,65.3 359.2,61.8 360.6,59.0 362.0,57.0 363.4,55.8 364.8,55.5 366.2,56.0 367.6,57.4 369.0,59.5 370.4,62.4 371.8,66.0 373.2,70.2 374.6,74.9 376.0,80.0 377.4,85.5 378.8,91.2 380.2,97.2 381.6,103.2 383.0,109.2 384.4,115.2 385.8,121.1 387.2,126.9 388.6,132.4 390.0,137.8 391.4,142.9 392.8,147.7 394.2,152.2 395.6,156.5 397.0,160.5 398.4,164.1 399.8,167.5 401.2,170.7 402.6,173.5 404.0,176.2 405.3,178.6 406.7,180.8 408.1,182.9 409.5,184.8 410.9,186.5 412.3,188.2 413.7,189.7 415.1,191.2 416.5,192.5 417.9,193.9 419.3,195.1 420.7,196.4 422.1,197.5 423.5,198.7 424.9,199.8 426.3,200.9 427.7,201.9 429.1,202.9 430.5,203.9 431.9,204.9 433.3,205.8 434.7,206.7 436.1,207.5 437.5,208.3 438.9,209.1 440.3,209.8 441.7,210.5 443.1,211.1 444.5,211.7 445.9,212.3 447.3,212.8 448.7,213.3 450.1,213.8 451.5,214.2 452.9,214.6 454.3,215.0 455.6,215.3 457.0,215.7 458.4,216.0 459.8,216.3 461.2,216.5 462.6,216.8 464.0,217.0 465.4,217.2 466.8,217.4 468.2,217.7 469.6,217.9 471.0,218.1 472.4,218.2 473.8,218.4 475.2,218.6 476.6,218.8 478.0,219.0 479.4,219.1 480.8,219.3 482.2,219.5 483.6,219.6 485.0,219.8 486.4,219.9 487.8,220.1 489.2,220.2 490.6,220.4 492.0,220.5 493.4,220.7 494.8,220.8 496.2,220.9 497.6,221.1 499.0,221.2 500.4,221.3 501.8,221.4 503.2,221.5 504.5,221.6 505.9,221.7 507.3,221.8 508.7,221.9 510.1,221.9 511.5,222.0 512.9,222.1 514.3,222.2 515.7,222.2 517.1,222.3 518.5,222.3 519.9,222.4 521.3,222.4 522.7,222.5 524.1,222.5" fill="none" stroke="#424242" stroke-width="1.9" stroke-linejoin="round" stroke-linecap="round" />
<g fill="#18ec18"><circle cx="72.1" cy="375.4" r="2.9"/><circle cx="75.6" cy="374.7" r="2.9"/><circle cx="79.1" cy="373.8" r="2.9"/><circle cx="82.6" cy="372.6" r="2.9"/><circle cx="86.1" cy="372.9" r="2.9"/><circle cx="89.6" cy="372.4" r="2.9"/><circle cx="93.1" cy="371.2" r="2.9"/><circle cx="96.6" cy="370.3" r="2.9"/><circle cx="100.1" cy="369.3" r="2.9"/><circle cx="103.6" cy="367.9" r="2.9"/><circle cx="107.0" cy="367.3" r="2.9"/><circle cx="110.5" cy="365.2" r="2.9"/><circle cx="114.0" cy="363.6" r="2.9"/><circle cx="117.5" cy="361.4" r="2.9"/><circle cx="121.0" cy="359.3" r="2.9"/><circle cx="124.5" cy="356.8" r="2.9"/><circle cx="128.0" cy="355.1" r="2.9"/><circle cx="131.5" cy="352.0" r="2.9"/><circle cx="135.0" cy="349.7" r="2.9"/><circle cx="138.5" cy="346.6" r="2.9"/><circle cx="142.0" cy="343.7" r="2.9"/><circle cx="145.5" cy="341.5" r="2.9"/><circle cx="149.0" cy="339.2" r="2.9"/><circle cx="152.5" cy="337.4" r="2.9"/><circle cx="155.9" cy="335.7" r="2.9"/><circle cx="159.4" cy="334.7" r="2.9"/><circle cx="162.9" cy="333.6" r="2.9"/><circle cx="166.4" cy="333.6" r="2.9"/><circle cx="169.9" cy="334.9" r="2.9"/><circle cx="173.4" cy="335.2" r="2.9"/><circle cx="176.9" cy="336.6" r="2.9"/><circle cx="180.4" cy="339.1" r="2.9"/><circle cx="183.9" cy="341.9" r="2.9"/><circle cx="187.4" cy="343.6" r="2.9"/><circle cx="190.9" cy="346.9" r="2.9"/><circle cx="194.4" cy="349.7" r="2.9"/><circle cx="197.9" cy="352.3" r="2.9"/><circle cx="201.4" cy="356.1" r="2.9"/><circle cx="204.9" cy="358.7" r="2.9"/><circle cx="208.3" cy="361.5" r="2.9"/><circle cx="211.8" cy="363.7" r="2.9"/><circle cx="215.3" cy="366.5" r="2.9"/><circle cx="218.8" cy="368.2" r="2.9"/><circle cx="222.3" cy="370.3" r="2.9"/><circle cx="225.8" cy="371.6" r="2.9"/><circle cx="229.3" cy="373.0" r="2.9"/><circle cx="232.8" cy="375.2" r="2.9"/><circle cx="236.3" cy="375.6" r="2.9"/><circle cx="239.8" cy="376.8" r="2.9"/><circle cx="243.3" cy="377.4" r="2.9"/><circle cx="246.8" cy="377.9" r="2.9"/><circle cx="250.3" cy="378.4" r="2.9"/><circle cx="253.8" cy="379.2" r="2.9"/><circle cx="257.2" cy="379.2" r="2.9"/><circle cx="260.7" cy="379.5" r="2.9"/><circle cx="264.2" cy="379.8" r="2.9"/><circle cx="267.7" cy="380.3" r="2.9"/><circle cx="271.2" cy="380.3" r="2.9"/><circle cx="274.7" cy="380.2" r="2.9"/><circle cx="278.2" cy="379.9" r="2.9"/><circle cx="281.7" cy="379.7" r="2.9"/><circle cx="285.2" cy="380.5" r="2.9"/><circle cx="288.7" cy="380.5" r="2.9"/><circle cx="292.2" cy="380.0" r="2.9"/><circle cx="295.7" cy="380.2" r="2.9"/><circle cx="299.2" cy="380.1" r="2.9"/><circle cx="302.7" cy="379.9" r="2.9"/><circle cx="306.1" cy="379.6" r="2.9"/><circle cx="309.6" cy="378.6" r="2.9"/><circle cx="313.1" cy="378.4" r="2.9"/><circle cx="316.6" cy="376.1" r="2.9"/><circle cx="320.1" cy="374.7" r="2.9"/><circle cx="323.6" cy="371.3" r="2.9"/><circle cx="327.1" cy="366.6" r="2.9"/><circle cx="330.6" cy="360.3" r="2.9"/><circle cx="334.1" cy="351.1" r="2.9"/><circle cx="337.6" cy="338.6" r="2.9"/><circle cx="341.1" cy="324.2" r="2.9"/><circle cx="344.6" cy="308.5" r="2.9"/><circle cx="348.1" cy="289.8" r="2.9"/><circle cx="351.6" cy="271.6" r="2.9"/><circle cx="355.0" cy="254.4" r="2.9"/><circle cx="358.5" cy="238.8" r="2.9"/><circle cx="362.0" cy="228.4" r="2.9"/><circle cx="365.5" cy="224.9" r="2.9"/><circle cx="369.0" cy="227.1" r="2.9"/><circle cx="372.5" cy="235.6" r="2.9"/><circle cx="376.0" cy="249.6" r="2.9"/><circle cx="379.5" cy="266.7" r="2.9"/><circle cx="383.0" cy="285.8" r="2.9"/><circle cx="386.5" cy="305.7" r="2.9"/><circle cx="390.0" cy="323.7" r="2.9"/><circle cx="393.5" cy="339.7" r="2.9"/><circle cx="397.0" cy="354.0" r="2.9"/><circle cx="400.5" cy="364.6" r="2.9"/><circle cx="404.0" cy="372.9" r="2.9"/><circle cx="407.4" cy="378.4" r="2.9"/><circle cx="410.9" cy="382.8" r="2.9"/><circle cx="414.4" cy="385.5" r="2.9"/><circle cx="417.9" cy="387.4" r="2.9"/><circle cx="421.4" cy="389.0" r="2.9"/><circle cx="424.9" cy="389.4" r="2.9"/><circle cx="428.4" cy="390.3" r="2.9"/><circle cx="431.9" cy="390.7" r="2.9"/><circle cx="435.4" cy="391.5" r="2.9"/><circle cx="438.9" cy="390.5" r="2.9"/><circle cx="442.4" cy="391.4" r="2.9"/><circle cx="445.9" cy="391.2" r="2.9"/><circle cx="449.4" cy="391.3" r="2.9"/><circle cx="452.9" cy="390.9" r="2.9"/><circle cx="456.3" cy="391.4" r="2.9"/><circle cx="459.8" cy="391.9" r="2.9"/><circle cx="463.3" cy="391.6" r="2.9"/><circle cx="466.8" cy="391.7" r="2.9"/><circle cx="470.3" cy="391.7" r="2.9"/><circle cx="473.8" cy="392.2" r="2.9"/><circle cx="477.3" cy="391.9" r="2.9"/><circle cx="480.8" cy="391.1" r="2.9"/><circle cx="484.3" cy="391.7" r="2.9"/><circle cx="487.8" cy="391.3" r="2.9"/><circle cx="491.3" cy="390.9" r="2.9"/><circle cx="494.8" cy="391.9" r="2.9"/><circle cx="498.3" cy="392.6" r="2.9"/><circle cx="501.8" cy="392.1" r="2.9"/><circle cx="505.2" cy="391.7" r="2.9"/><circle cx="508.7" cy="391.8" r="2.9"/><circle cx="512.2" cy="392.6" r="2.9"/><circle cx="515.7" cy="392.3" r="2.9"/><circle cx="519.2" cy="392.2" r="2.9"/><circle cx="522.7" cy="392.2" r="2.9"/></g>
<polyline points="70.0,377.1 71.4,377.1 72.8,377.1 74.2,377.1 75.6,377.1 77.0,377.1 78.4,377.1 79.8,377.1 81.2,377.2 82.6,377.2 84.0,377.2 85.4,377.2 86.8,377.2 88.2,377.2 89.6,377.2 91.0,377.2 92.4,377.2 93.8,377.2 95.2,377.2 96.6,377.2 98.0,377.3 99.4,377.3 100.8,377.3 102.2,377.3 103.6,377.3 105.0,377.3 106.3,377.3 107.7,377.4 109.1,377.4 110.5,377.4 111.9,377.4 113.3,377.4 114.7,377.5 116.1,377.5 117.5,377.5 118.9,377.5 120.3,377.6 121.7,377.6 123.1,377.6 124.5,377.7 125.9,377.7 127.3,377.8 128.7,377.8 130.1,377.8 131.5,377.9 132.9,377.9 134.3,378.0 135.7,378.0 137.1,378.1 138.5,378.1 139.9,378.2 141.3,378.3 142.7,378.3 144.1,378.4 145.5,378.5 146.9,378.5 148.3,378.6 149.7,378.7 151.1,378.8 152.5,378.8 153.9,378.9 155.2,379.0 156.6,379.1 158.0,379.2 159.4,379.2 160.8,379.3 162.2,379.4 163.6,379.5 165.0,379.6 166.4,379.7 167.8,379.8 169.2,379.8 170.6,379.9 172.0,380.0 173.4,380.1 174.8,380.2 176.2,380.3 177.6,380.4 179.0,380.4 180.4,380.5 181.8,380.6 183.2,380.7 184.6,380.7 186.0,380.8 187.4,380.9 188.8,381.0 190.2,381.0 191.6,381.1 193.0,381.1 194.4,381.2 195.8,381.3 197.2,381.3 198.6,381.4 200.0,381.4 201.4,381.5 202.8,381.5 204.2,381.6 205.5,381.6 206.9,381.7 208.3,381.7 209.7,381.7 211.1,381.8 212.5,381.8 213.9,381.8 215.3,381.9 216.7,381.9 218.1,381.9 219.5,381.9 220.9,382.0 222.3,382.0 223.7,382.0 225.1,382.0 226.5,382.0 227.9,382.1 229.3,382.1 230.7,382.1 232.1,382.1 233.5,382.1 234.9,382.1 236.3,382.1 237.7,382.2 239.1,382.2 240.5,382.2 241.9,382.2 243.3,382.2 244.7,382.2 246.1,382.2 247.5,382.2 248.9,382.2 250.3,382.2 251.7,382.2 253.1,382.2 254.5,382.3 255.8,382.3 257.2,382.3 258.6,382.3 260.0,382.3 261.4,382.3 262.8,382.3 264.2,382.3 265.6,382.3 267.0,382.3 268.4,382.3 269.8,382.3 271.2,382.3 272.6,382.3 274.0,382.3 275.4,382.3 276.8,382.3 278.2,382.3 279.6,382.3 281.0,382.3 282.4,382.3 283.8,382.4 285.2,382.4 286.6,382.4 288.0,382.4 289.4,382.4 290.8,382.4 292.2,382.4 293.6,382.4 295.0,382.4 296.4,382.4 297.8,382.4 299.2,382.4 300.6,382.4 302.0,382.4 303.4,382.4 304.8,382.4 306.1,382.4 307.5,382.4 308.9,382.4 310.3,382.4 311.7,382.5 313.1,382.5 314.5,382.5 315.9,382.5 317.3,382.5 318.7,382.5 320.1,382.5 321.5,382.5 322.9,382.6 324.3,382.6 325.7,382.6 327.1,382.6 328.5,382.7 329.9,382.7 331.3,382.8 332.7,382.8 334.1,382.9 335.5,382.9 336.9,383.0 338.3,383.1 339.7,383.2 341.1,383.3 342.5,383.4 343.9,383.5 345.3,383.7 346.7,383.8 348.1,384.0 349.5,384.2 350.9,384.4 352.3,384.6 353.7,384.9 355.0,385.1 356.4,385.4 357.8,385.6 359.2,385.9 360.6,386.2 362.0,386.5 363.4,386.8 364.8,387.1 366.2,387.4 367.6,387.8 369.0,388.1 370.4,388.4 371.8,388.7 373.2,389.0 374.6,389.3 376.0,389.5 377.4,389.8 378.8,390.1 380.2,390.3 381.6,390.5 383.0,390.7 384.4,390.9 385.8,391.1 387.2,391.3 388.6,391.4 390.0,391.5 391.4,391.7 392.8,391.8 394.2,391.9 395.6,392.0 397.0,392.0 398.4,392.1 399.8,392.2 401.2,392.2 402.6,392.3 404.0,392.3 405.3,392.4 406.7,392.4 408.1,392.4 409.5,392.4 410.9,392.5 412.3,392.5 413.7,392.5 415.1,392.5 416.5,392.5 417.9,392.5 419.3,392.5 420.7,392.5 422.1,392.5 423.5,392.5 424.9,392.6 426.3,392.6 427.7,392.6 429.1,392.6 430.5,392.6 431.9,392.6 433.3,392.6 434.7,392.6 436.1,392.6 437.5,392.6 438.9,392.6 440.3,392.6 441.7,392.6 443.1,392.6 444.5,392.6 445.9,392.6 447.3,392.6 448.7,392.6 450.1,392.6 451.5,392.6 452.9,392.6 454.3,392.6 455.6,392.6 457.0,392.6 458.4,392.6 459.8,392.6 461.2,392.6 462.6,392.6 464.0,392.6 465.4,392.6 466.8,392.6 468.2,392.6 469.6,392.6 471.0,392.6 472.4,392.6 473.8,392.7 475.2,392.7 476.6,392.7 478.0,392.7 479.4,392.7 480.8,392.7 482.2,392.7 483.6,392.7 485.0,392.7 486.4,392.7 487.8,392.7 489.2,392.7 490.6,392.7 492.0,392.7 493.4,392.7 494.8,392.7 496.2,392.7 497.6,392.7 499.0,392.7 500.4,392.7 501.8,392.7 503.2,392.7 504.5,392.7 505.9,392.7 507.3,392.7 508.7,392.7 510.1,392.7 511.5,392.7 512.9,392.7 514.3,392.7 515.7,392.7 517.1,392.7 518.5,392.7 519.9,392.7 521.3,392.7 522.7,392.7 524.1,392.7" fill="none" stroke="#444" stroke-width="1.6" stroke-linejoin="round" stroke-linecap="round" />
<polyline points="70.0,375.2 71.4,375.1 72.8,375.0 74.2,374.9 75.6,374.8 77.0,374.7 78.4,374.6 79.8,374.4 81.2,374.3 82.6,374.1 84.0,374.0 85.4,373.8 86.8,373.6 88.2,373.4 89.6,373.1 91.0,372.9 92.4,372.6 93.8,372.3 95.2,372.0 96.6,371.6 98.0,371.3 99.4,370.9 100.8,370.5 102.2,370.0 103.6,369.5 105.0,369.0 106.3,368.5 107.7,367.9 109.1,367.3 110.5,366.7 111.9,366.0 113.3,365.4 114.7,364.6 116.1,363.9 117.5,363.1 118.9,362.2 120.3,361.4 121.7,360.5 123.1,359.6 124.5,358.6 125.9,357.6 127.3,356.6 128.7,355.6 130.1,354.6 131.5,353.5 132.9,352.5 134.3,351.4 135.7,350.3 137.1,349.2 138.5,348.1 139.9,347.0 141.3,345.9 142.7,344.9 144.1,343.8 145.5,342.8 146.9,341.8 148.3,340.9 149.7,340.0 151.1,339.1 152.5,338.3 153.9,337.6 155.2,336.9 156.6,336.3 158.0,335.8 159.4,335.3 160.8,335.0 162.2,334.7 163.6,334.5 165.0,334.4 166.4,334.5 167.8,334.6 169.2,334.8 170.6,335.1 172.0,335.5 173.4,336.0 174.8,336.6 176.2,337.2 177.6,338.0 179.0,338.8 180.4,339.6 181.8,340.6 183.2,341.6 184.6,342.6 186.0,343.7 187.4,344.8 188.8,345.9 190.2,347.1 191.6,348.3 193.0,349.5 194.4,350.7 195.8,351.9 197.2,353.1 198.6,354.2 200.0,355.4 201.4,356.6 202.8,357.7 204.2,358.9 205.5,360.0 206.9,361.1 208.3,362.1 209.7,363.1 211.1,364.1 212.5,365.1 213.9,366.0 215.3,366.9 216.7,367.8 218.1,368.6 219.5,369.4 220.9,370.1 222.3,370.8 223.7,371.5 225.1,372.1 226.5,372.7 227.9,373.3 229.3,373.9 230.7,374.4 232.1,374.8 233.5,375.3 234.9,375.7 236.3,376.1 237.7,376.4 239.1,376.8 240.5,377.1 241.9,377.4 243.3,377.6 244.7,377.9 246.1,378.1 247.5,378.3 248.9,378.5 250.3,378.7 251.7,378.8 253.1,379.0 254.5,379.1 255.8,379.2 257.2,379.4 258.6,379.5 260.0,379.6 261.4,379.6 262.8,379.7 264.2,379.8 265.6,379.8 267.0,379.9 268.4,379.9 269.8,380.0 271.2,380.0 272.6,380.0 274.0,380.1 275.4,380.1 276.8,380.1 278.2,380.1 279.6,380.1 281.0,380.2 282.4,380.2 283.8,380.2 285.2,380.2 286.6,380.1 288.0,380.1 289.4,380.1 290.8,380.1 292.2,380.1 293.6,380.1 295.0,380.0 296.4,380.0 297.8,379.9 299.2,379.9 300.6,379.8 302.0,379.7 303.4,379.6 304.8,379.5 306.1,379.3 307.5,379.1 308.9,378.9 310.3,378.6 311.7,378.3 313.1,377.9 314.5,377.4 315.9,376.9 317.3,376.2 318.7,375.4 320.1,374.4 321.5,373.2 322.9,371.9 324.3,370.3 325.7,368.5 327.1,366.3 328.5,363.9 329.9,361.1 331.3,358.0 332.7,354.5 334.1,350.6 335.5,346.3 336.9,341.5 338.3,336.3 339.7,330.7 341.1,324.8 342.5,318.4 343.9,311.7 345.3,304.7 346.7,297.5 348.1,290.1 349.5,282.7 350.9,275.3 352.3,268.0 353.7,260.9 355.0,254.1 356.4,247.8 357.8,242.0 359.2,236.9 360.6,232.6 362.0,229.2 363.4,226.7 364.8,225.2 366.2,224.8 367.6,225.4 369.0,227.1 370.4,229.8 371.8,233.5 373.2,238.1 374.6,243.5 376.0,249.6 377.4,256.2 378.8,263.3 380.2,270.8 381.6,278.5 383.0,286.3 384.4,294.2 385.8,301.9 387.2,309.6 388.6,317.0 390.0,324.1 391.4,330.8 392.8,337.2 394.2,343.2 395.6,348.7 397.0,353.8 398.4,358.4 399.8,362.6 401.2,366.4 402.6,369.8 404.0,372.8 405.3,375.4 406.7,377.8 408.1,379.8 409.5,381.5 410.9,383.0 412.3,384.3 413.7,385.4 415.1,386.3 416.5,387.1 417.9,387.7 419.3,388.3 420.7,388.7 422.1,389.1 423.5,389.4 424.9,389.7 426.3,389.9 427.7,390.1 429.1,390.3 430.5,390.4 431.9,390.6 433.3,390.7 434.7,390.8 436.1,390.8 437.5,390.9 438.9,391.0 440.3,391.0 441.7,391.1 443.1,391.1 444.5,391.2 445.9,391.2 447.3,391.3 448.7,391.3 450.1,391.4 451.5,391.4 452.9,391.4 454.3,391.5 455.6,391.5 457.0,391.5 458.4,391.6 459.8,391.6 461.2,391.6 462.6,391.6 464.0,391.7 465.4,391.7 466.8,391.7 468.2,391.7 469.6,391.8 471.0,391.8 472.4,391.8 473.8,391.8 475.2,391.8 476.6,391.9 478.0,391.9 479.4,391.9 480.8,391.9 482.2,391.9 483.6,391.9 485.0,392.0 486.4,392.0 487.8,392.0 489.2,392.0 490.6,392.0 492.0,392.0 493.4,392.0 494.8,392.1 496.2,392.1 497.6,392.1 499.0,392.1 500.4,392.1 501.8,392.1 503.2,392.1 504.5,392.1 505.9,392.1 507.3,392.2 508.7,392.2 510.1,392.2 511.5,392.2 512.9,392.2 514.3,392.2 515.7,392.2 517.1,392.2 518.5,392.2 519.9,392.2 521.3,392.2 522.7,392.2 524.1,392.3" fill="none" stroke="#424242" stroke-width="1.9" stroke-linejoin="round" stroke-linecap="round" />
</g>
<g clip-path="url(#cb)">
<line x1="175.70" y1="745.7" x2="175.70" y2="884" stroke="#000" stroke-width="2.2" stroke-dasharray="5.5 4.78 2 4.77" stroke-dashoffset="0"/>
<line x1="230.10" y1="709.8" x2="230.10" y2="884" stroke="#000" stroke-width="2.2" stroke-dasharray="5.5 4.78 2 4.77" stroke-dashoffset="3.55"/>
<line x1="278.80" y1="736.9" x2="278.80" y2="884" stroke="#000" stroke-width="2.2" stroke-dasharray="5.5 4.78 2 4.77" stroke-dashoffset="10.28"/>
<line x1="342.30" y1="661.3" x2="342.30" y2="884" stroke="#000" stroke-width="2.2" stroke-dasharray="5.5 4.78 2 4.77" stroke-dashoffset="10.28"/>
<line x1="380.80" y1="527.6" x2="380.80" y2="884" stroke="#000" stroke-width="2.2" stroke-dasharray="5.5 4.78 2 4.77" stroke-dashoffset="0"/>
<g fill="#7272f2"><circle cx="71.6" cy="822.5" r="2.75"/><circle cx="75.1" cy="822.7" r="2.75"/><circle cx="78.6" cy="820.5" r="2.75"/><circle cx="82.2" cy="820.4" r="2.75"/><circle cx="85.7" cy="819.3" r="2.75"/><circle cx="89.2" cy="821.8" r="2.75"/><circle cx="92.7" cy="819.7" r="2.75"/><circle cx="96.3" cy="820.4" r="2.75"/><circle cx="99.8" cy="819.1" r="2.75"/><circle cx="103.3" cy="819.0" r="2.75"/><circle cx="106.8" cy="821.1" r="2.75"/><circle cx="110.4" cy="822.7" r="2.75"/><circle cx="113.9" cy="823.7" r="2.75"/><circle cx="117.4" cy="822.6" r="2.75"/><circle cx="120.9" cy="821.3" r="2.75"/><circle cx="124.5" cy="818.9" r="2.75"/><circle cx="128.0" cy="818.3" r="2.75"/><circle cx="131.5" cy="817.8" r="2.75"/><circle cx="135.1" cy="820.7" r="2.75"/><circle cx="138.6" cy="819.2" r="2.75"/><circle cx="142.1" cy="818.8" r="2.75"/><circle cx="145.6" cy="818.4" r="2.75"/><circle cx="149.2" cy="820.5" r="2.75"/><circle cx="152.7" cy="820.8" r="2.75"/><circle cx="156.2" cy="820.6" r="2.75"/><circle cx="159.7" cy="820.5" r="2.75"/><circle cx="163.3" cy="819.1" r="2.75"/><circle cx="166.8" cy="818.0" r="2.75"/><circle cx="170.3" cy="814.0" r="2.75"/><circle cx="173.8" cy="815.4" r="2.75"/><circle cx="177.4" cy="816.1" r="2.75"/><circle cx="180.9" cy="818.1" r="2.75"/><circle cx="184.4" cy="816.5" r="2.75"/><circle cx="187.9" cy="815.1" r="2.75"/><circle cx="191.5" cy="813.9" r="2.75"/><circle cx="195.0" cy="812.6" r="2.75"/><circle cx="198.5" cy="812.0" r="2.75"/><circle cx="202.0" cy="811.5" r="2.75"/><circle cx="205.6" cy="812.9" r="2.75"/><circle cx="209.1" cy="813.2" r="2.75"/><circle cx="212.6" cy="812.8" r="2.75"/><circle cx="216.1" cy="810.4" r="2.75"/><circle cx="219.7" cy="808.9" r="2.75"/><circle cx="223.2" cy="810.0" r="2.75"/><circle cx="226.7" cy="810.6" r="2.75"/><circle cx="230.3" cy="810.9" r="2.75"/><circle cx="233.8" cy="809.0" r="2.75"/><circle cx="237.3" cy="807.6" r="2.75"/><circle cx="240.8" cy="807.6" r="2.75"/><circle cx="244.4" cy="808.8" r="2.75"/><circle cx="247.9" cy="809.8" r="2.75"/><circle cx="251.4" cy="810.0" r="2.75"/><circle cx="254.9" cy="809.4" r="2.75"/><circle cx="258.5" cy="810.1" r="2.75"/><circle cx="262.0" cy="809.2" r="2.75"/><circle cx="265.5" cy="809.3" r="2.75"/><circle cx="269.0" cy="808.7" r="2.75"/><circle cx="272.6" cy="810.5" r="2.75"/><circle cx="276.1" cy="810.1" r="2.75"/><circle cx="279.6" cy="811.1" r="2.75"/><circle cx="283.1" cy="811.4" r="2.75"/><circle cx="286.7" cy="811.7" r="2.75"/><circle cx="290.2" cy="810.7" r="2.75"/><circle cx="293.7" cy="809.6" r="2.75"/><circle cx="297.2" cy="809.4" r="2.75"/><circle cx="300.8" cy="808.5" r="2.75"/><circle cx="304.3" cy="807.6" r="2.75"/><circle cx="307.8" cy="807.2" r="2.75"/><circle cx="311.4" cy="805.5" r="2.75"/><circle cx="314.9" cy="802.5" r="2.75"/><circle cx="318.4" cy="797.6" r="2.75"/><circle cx="321.9" cy="794.4" r="2.75"/><circle cx="325.5" cy="789.9" r="2.75"/><circle cx="329.0" cy="785.7" r="2.75"/><circle cx="332.5" cy="781.6" r="2.75"/><circle cx="336.0" cy="776.7" r="2.75"/><circle cx="339.6" cy="771.8" r="2.75"/><circle cx="343.1" cy="764.4" r="2.75"/><circle cx="346.6" cy="755.0" r="2.75"/><circle cx="350.1" cy="741.1" r="2.75"/><circle cx="353.7" cy="723.4" r="2.75"/><circle cx="357.2" cy="700.5" r="2.75"/><circle cx="360.7" cy="672.6" r="2.75"/><circle cx="364.2" cy="640.4" r="2.75"/><circle cx="367.8" cy="609.4" r="2.75"/><circle cx="371.3" cy="581.9" r="2.75"/><circle cx="374.8" cy="560.4" r="2.75"/><circle cx="378.3" cy="546.0" r="2.75"/><circle cx="381.9" cy="542.0" r="2.75"/><circle cx="385.4" cy="550.8" r="2.75"/><circle cx="388.9" cy="572.5" r="2.75"/><circle cx="392.4" cy="602.5" r="2.75"/><circle cx="396.0" cy="637.9" r="2.75"/><circle cx="399.5" cy="674.6" r="2.75"/><circle cx="403.0" cy="711.1" r="2.75"/><circle cx="406.6" cy="743.9" r="2.75"/><circle cx="410.1" cy="771.1" r="2.75"/><circle cx="413.6" cy="792.5" r="2.75"/><circle cx="417.1" cy="808.8" r="2.75"/><circle cx="420.7" cy="821.2" r="2.75"/><circle cx="424.2" cy="828.3" r="2.75"/><circle cx="427.7" cy="831.8" r="2.75"/><circle cx="431.2" cy="831.1" r="2.75"/><circle cx="434.8" cy="832.3" r="2.75"/><circle cx="438.3" cy="831.5" r="2.75"/><circle cx="441.8" cy="832.0" r="2.75"/><circle cx="445.3" cy="832.5" r="2.75"/><circle cx="448.9" cy="834.7" r="2.75"/><circle cx="452.4" cy="835.9" r="2.75"/><circle cx="455.9" cy="833.9" r="2.75"/><circle cx="459.4" cy="833.2" r="2.75"/><circle cx="463.0" cy="832.8" r="2.75"/><circle cx="466.5" cy="834.7" r="2.75"/><circle cx="470.0" cy="836.9" r="2.75"/><circle cx="473.5" cy="837.6" r="2.75"/><circle cx="477.1" cy="836.5" r="2.75"/><circle cx="480.6" cy="833.8" r="2.75"/><circle cx="484.1" cy="833.6" r="2.75"/><circle cx="487.7" cy="834.1" r="2.75"/><circle cx="491.2" cy="834.2" r="2.75"/><circle cx="494.7" cy="834.3" r="2.75"/><circle cx="498.2" cy="833.5" r="2.75"/><circle cx="501.8" cy="835.4" r="2.75"/><circle cx="505.3" cy="836.3" r="2.75"/><circle cx="508.8" cy="838.1" r="2.75"/><circle cx="512.3" cy="836.8" r="2.75"/><circle cx="515.9" cy="836.4" r="2.75"/><circle cx="519.4" cy="835.4" r="2.75"/><circle cx="522.9" cy="835.5" r="2.75"/><circle cx="526.4" cy="834.8" r="2.75"/></g>
<polyline points="121.3,820.9 122.7,820.9 124.1,820.9 125.5,820.9 126.9,820.9 128.4,820.9 129.8,820.9 131.2,820.9 132.6,820.9 134.0,820.9 135.4,820.9 136.8,820.9 138.2,820.9 139.6,820.9 141.0,820.9 142.5,820.9 143.9,820.9 145.3,820.9 146.7,820.9 148.1,820.9 149.5,820.9 150.9,820.9 152.3,820.9 153.7,820.9 155.1,820.9 156.6,820.9 158.0,820.9 159.4,820.9 160.8,820.9 162.2,820.9 163.6,820.9 165.0,820.9 166.4,820.9 167.8,820.9 169.3,820.9 170.7,820.9 172.1,820.9 173.5,820.9 174.9,820.9 176.3,820.9 177.7,821.0 179.1,821.0 180.5,821.0 181.9,821.0 183.4,821.0 184.8,821.0 186.2,821.0 187.6,821.0 189.0,821.0 190.4,821.0 191.8,821.0 193.2,821.0 194.6,821.0 196.1,821.1 197.5,821.1 198.9,821.1 200.3,821.1 201.7,821.1 203.1,821.1 204.5,821.1 205.9,821.1 207.3,821.1 208.7,821.1 210.2,821.2 211.6,821.2 213.0,821.2 214.4,821.2 215.8,821.2 217.2,821.2 218.6,821.2 220.0,821.2 221.4,821.3 222.8,821.3 224.3,821.3 225.7,821.3 227.1,821.3 228.5,821.3 229.9,821.3 231.3,821.3 232.7,821.4 234.1,821.4 235.5,821.4 237.0,821.4 238.4,821.4 239.8,821.4 241.2,821.4 242.6,821.4 244.0,821.5 245.4,821.5 246.8,821.5 248.2,821.5 249.6,821.5 251.1,821.5 252.5,821.5 253.9,821.5 255.3,821.5 256.7,821.6 258.1,821.6 259.5,821.6 260.9,821.6 262.3,821.6 263.7,821.6 265.2,821.6 266.6,821.6 268.0,821.6 269.4,821.6 270.8,821.6 272.2,821.6 273.6,821.7 275.0,821.7 276.4,821.7 277.9,821.7 279.3,821.7 280.7,821.7 282.1,821.7 283.5,821.7 284.9,821.7 286.3,821.7 287.7,821.7 289.1,821.7 290.5,821.7 292.0,821.7 293.4,821.7 294.8,821.7 296.2,821.7 297.6,821.7 299.0,821.7 300.4,821.7 301.8,821.7 303.2,821.7 304.7,821.7 306.1,821.7 307.5,821.7 308.9,821.7 310.3,821.7 311.7,821.7 313.1,821.6 314.5,821.6 315.9,821.6 317.3,821.5 318.8,821.5 320.2,821.4 321.6,821.3 323.0,821.1 324.4,820.9 325.8,820.7 327.2,820.4 328.6,820.0 330.0,819.4 331.4,818.7 332.9,817.9 334.3,816.9 335.7,815.6 337.1,814.0 338.5,812.1 339.9,809.8 341.3,807.0 342.7,803.7 344.1,799.9 345.6,795.4 347.0,790.3 348.4,784.3 349.8,777.6 351.2,770.1 352.6,761.7 354.0,752.4 355.4,742.3 356.8,731.3 358.2,719.5 359.7,707.0 361.1,694.0 362.5,680.4 363.9,666.5 365.3,652.4 366.7,638.4 368.1,624.7 369.5,611.4 370.9,598.9 372.4,587.3 373.8,576.8 375.2,567.8 376.6,560.3 378.0,554.7 379.4,550.8 380.8,549.0 382.2,549.2 383.6,551.5 385.0,555.7 386.5,561.8 387.9,569.7 389.3,579.2 390.7,590.1 392.1,602.2 393.5,615.2 394.9,629.0 396.3,643.2 397.7,657.8 399.1,672.3 400.6,686.7 402.0,700.7 403.4,714.3 404.8,727.3 406.2,739.5 407.6,750.9 409.0,761.4 410.4,771.1 411.8,779.9 413.3,787.8 414.7,794.8 416.1,801.0 417.5,806.4 418.9,811.1 420.3,815.2 421.7,818.7 423.1,821.6 424.5,824.1 425.9,826.2 427.4,827.9 428.8,829.3 430.2,830.4 431.6,831.4 433.0,832.1 434.4,832.7 435.8,833.2 437.2,833.6 438.6,833.9 440.0,834.2 441.5,834.4 442.9,834.5 444.3,834.6 445.7,834.7 447.1,834.8 448.5,834.9 449.9,834.9 451.3,835.0 452.7,835.0 454.2,835.1 455.6,835.1 457.0,835.1 458.4,835.1 459.8,835.2 461.2,835.2 462.6,835.2 464.0,835.2 465.4,835.2 466.8,835.3 468.3,835.3 469.7,835.3 471.1,835.3 472.5,835.3 473.9,835.3 475.3,835.3 476.7,835.4 478.1,835.4 479.5,835.4 481.0,835.4 482.4,835.4 483.8,835.4 485.2,835.4 486.6,835.4 488.0,835.4 489.4,835.4 490.8,835.5 492.2,835.5 493.6,835.5 495.1,835.5 496.5,835.5 497.9,835.5 499.3,835.5 500.7,835.5 502.1,835.5 503.5,835.5 504.9,835.5 506.3,835.5 507.7,835.5 509.2,835.5 510.6,835.5 512.0,835.5 513.4,835.6 514.8,835.6 516.2,835.6 517.6,835.6 519.0,835.6 520.4,835.6 521.9,835.6 523.3,835.6 524.7,835.6 526.1,835.6 527.5,835.6" fill="none" stroke="#505050" stroke-width="1.4" stroke-linejoin="round" stroke-linecap="round" stroke-dasharray="4.2 5"/>
<polyline points="121.3,820.9 122.7,820.9 124.1,820.9 125.5,820.9 126.9,820.9 128.4,820.9 129.8,820.9 131.2,820.9 132.6,820.9 134.0,820.9 135.4,820.9 136.8,820.9 138.2,820.9 139.6,820.9 141.0,820.9 142.5,820.9 143.9,820.9 145.3,820.9 146.7,820.9 148.1,820.9 149.5,820.9 150.9,820.9 152.3,820.9 153.7,820.9 155.1,820.9 156.6,820.9 158.0,820.9 159.4,820.9 160.8,820.9 162.2,820.9 163.6,820.9 165.0,820.9 166.4,820.9 167.8,820.9 169.3,820.9 170.7,820.9 172.1,820.9 173.5,820.9 174.9,820.9 176.3,820.9 177.7,820.9 179.1,820.9 180.5,820.9 181.9,820.9 183.4,820.9 184.8,820.9 186.2,821.0 187.6,821.0 189.0,821.0 190.4,821.0 191.8,821.0 193.2,821.0 194.6,821.0 196.1,821.0 197.5,821.0 198.9,821.0 200.3,821.0 201.7,821.0 203.1,821.0 204.5,821.1 205.9,821.1 207.3,821.1 208.7,821.1 210.2,821.1 211.6,821.1 213.0,821.1 214.4,821.1 215.8,821.1 217.2,821.1 218.6,821.1 220.0,821.2 221.4,821.2 222.8,821.2 224.3,821.2 225.7,821.2 227.1,821.2 228.5,821.2 229.9,821.2 231.3,821.2 232.7,821.2 234.1,821.3 235.5,821.3 237.0,821.3 238.4,821.3 239.8,821.3 241.2,821.3 242.6,821.3 244.0,821.3 245.4,821.3 246.8,821.3 248.2,821.3 249.6,821.3 251.1,821.3 252.5,821.3 253.9,821.3 255.3,821.3 256.7,821.3 258.1,821.3 259.5,821.3 260.9,821.3 262.3,821.3 263.7,821.3 265.2,821.3 266.6,821.3 268.0,821.3 269.4,821.3 270.8,821.2 272.2,821.2 273.6,821.2 275.0,821.1 276.4,821.1 277.9,821.0 279.3,820.9 280.7,820.8 282.1,820.7 283.5,820.6 284.9,820.5 286.3,820.3 287.7,820.1 289.1,819.8 290.5,819.6 292.0,819.3 293.4,818.9 294.8,818.5 296.2,818.1 297.6,817.6 299.0,817.0 300.4,816.4 301.8,815.6 303.2,814.9 304.7,814.0 306.1,813.1 307.5,812.1 308.9,811.0 310.3,809.9 311.7,808.6 313.1,807.4 314.5,806.0 315.9,804.6 317.3,803.1 318.8,801.6 320.2,800.1 321.6,798.5 323.0,797.0 324.4,795.4 325.8,793.9 327.2,792.4 328.6,791.0 330.0,789.7 331.4,788.5 332.9,787.4 334.3,786.4 335.7,785.6 337.1,784.9 338.5,784.5 339.9,784.2 341.3,784.1 342.7,784.2 344.1,784.6 345.6,785.1 347.0,785.8 348.4,786.7 349.8,787.8 351.2,789.0 352.6,790.3 354.0,791.8 355.4,793.4 356.8,795.0 358.2,796.7 359.7,798.5 361.1,800.3 362.5,802.1 363.9,803.9 365.3,805.7 366.7,807.5 368.1,809.3 369.5,811.0 370.9,812.7 372.4,814.3 373.8,815.9 375.2,817.4 376.6,818.8 378.0,820.2 379.4,821.5 380.8,822.7 382.2,823.8 383.6,824.9 385.0,825.9 386.5,826.8 387.9,827.7 389.3,828.5 390.7,829.2 392.1,829.9 393.5,830.5 394.9,831.1 396.3,831.6 397.7,832.0 399.1,832.4 400.6,832.8 402.0,833.1 403.4,833.4 404.8,833.7 406.2,833.9 407.6,834.1 409.0,834.3 410.4,834.4 411.8,834.6 413.3,834.7 414.7,834.8 416.1,834.8 417.5,834.9 418.9,835.0 420.3,835.0 421.7,835.1 423.1,835.1 424.5,835.2 425.9,835.2 427.4,835.2 428.8,835.2 430.2,835.3 431.6,835.3 433.0,835.3 434.4,835.3 435.8,835.3 437.2,835.4 438.6,835.4 440.0,835.4 441.5,835.4 442.9,835.4 444.3,835.4 445.7,835.4 447.1,835.4 448.5,835.4 449.9,835.4 451.3,835.5 452.7,835.5 454.2,835.5 455.6,835.5 457.0,835.5 458.4,835.5 459.8,835.5 461.2,835.5 462.6,835.5 464.0,835.5 465.4,835.5 466.8,835.5 468.3,835.5 469.7,835.5 471.1,835.5 472.5,835.5 473.9,835.6 475.3,835.6 476.7,835.6 478.1,835.6 479.5,835.6 481.0,835.6 482.4,835.6 483.8,835.6 485.2,835.6 486.6,835.6 488.0,835.6 489.4,835.6 490.8,835.6 492.2,835.6 493.6,835.6 495.1,835.6 496.5,835.6 497.9,835.6 499.3,835.6 500.7,835.6 502.1,835.6 503.5,835.6 504.9,835.6 506.3,835.6 507.7,835.6 509.2,835.6 510.6,835.6 512.0,835.6 513.4,835.6 514.8,835.6 516.2,835.7 517.6,835.7 519.0,835.7 520.4,835.7 521.9,835.7 523.3,835.7 524.7,835.7 526.1,835.7 527.5,835.7" fill="none" stroke="#505050" stroke-width="1.4" stroke-linejoin="round" stroke-linecap="round" stroke-dasharray="4.2 5"/>
<polyline points="121.3,821.0 122.7,821.0 124.1,821.0 125.5,821.0 126.9,821.0 128.4,821.0 129.8,821.0 131.2,821.0 132.6,821.0 134.0,821.0 135.4,821.0 136.8,821.0 138.2,821.0 139.6,821.0 141.0,821.0 142.5,821.0 143.9,821.0 145.3,821.0 146.7,821.0 148.1,821.0 149.5,821.0 150.9,821.0 152.3,821.0 153.7,821.0 155.1,821.0 156.6,821.0 158.0,821.0 159.4,821.0 160.8,821.0 162.2,821.0 163.6,821.0 165.0,821.0 166.4,821.0 167.8,821.0 169.3,821.0 170.7,821.0 172.1,821.0 173.5,821.0 174.9,821.0 176.3,821.0 177.7,821.0 179.1,821.0 180.5,821.1 181.9,821.1 183.4,821.1 184.8,821.1 186.2,821.1 187.6,821.1 189.0,821.1 190.4,821.1 191.8,821.1 193.2,821.1 194.6,821.1 196.1,821.2 197.5,821.2 198.9,821.2 200.3,821.2 201.7,821.2 203.1,821.2 204.5,821.2 205.9,821.2 207.3,821.2 208.7,821.3 210.2,821.3 211.6,821.3 213.0,821.3 214.4,821.3 215.8,821.3 217.2,821.3 218.6,821.3 220.0,821.3 221.4,821.3 222.8,821.3 224.3,821.3 225.7,821.3 227.1,821.2 228.5,821.2 229.9,821.2 231.3,821.1 232.7,821.1 234.1,821.0 235.5,821.0 237.0,820.9 238.4,820.8 239.8,820.7 241.2,820.6 242.6,820.4 244.0,820.3 245.4,820.1 246.8,819.9 248.2,819.7 249.6,819.5 251.1,819.3 252.5,819.0 253.9,818.8 255.3,818.5 256.7,818.2 258.1,817.9 259.5,817.6 260.9,817.3 262.3,817.0 263.7,816.7 265.2,816.4 266.6,816.1 268.0,815.8 269.4,815.5 270.8,815.3 272.2,815.0 273.6,814.8 275.0,814.6 276.4,814.4 277.9,814.3 279.3,814.2 280.7,814.1 282.1,814.1 283.5,814.1 284.9,814.1 286.3,814.2 287.7,814.3 289.1,814.5 290.5,814.6 292.0,814.8 293.4,815.1 294.8,815.3 296.2,815.6 297.6,815.9 299.0,816.2 300.4,816.5 301.8,816.9 303.2,817.2 304.7,817.6 306.1,817.9 307.5,818.2 308.9,818.6 310.3,818.9 311.7,819.2 313.1,819.5 314.5,819.8 315.9,820.1 317.3,820.4 318.8,820.6 320.2,820.9 321.6,821.1 323.0,821.3 324.4,821.5 325.8,821.7 327.2,821.9 328.6,822.1 330.0,822.2 331.4,822.4 332.9,822.5 334.3,822.6 335.7,822.7 337.1,822.9 338.5,823.0 339.9,823.1 341.3,823.2 342.7,823.3 344.1,823.4 345.6,823.5 347.0,823.6 348.4,823.8 349.8,823.9 351.2,824.0 352.6,824.1 354.0,824.3 355.4,824.4 356.8,824.6 358.2,824.8 359.7,825.0 361.1,825.2 362.5,825.4 363.9,825.6 365.3,825.9 366.7,826.2 368.1,826.5 369.5,826.8 370.9,827.1 372.4,827.4 373.8,827.8 375.2,828.1 376.6,828.5 378.0,828.9 379.4,829.3 380.8,829.7 382.2,830.1 383.6,830.5 385.0,830.9 386.5,831.2 387.9,831.6 389.3,832.0 390.7,832.3 392.1,832.6 393.5,832.9 394.9,833.2 396.3,833.5 397.7,833.8 399.1,834.0 400.6,834.2 402.0,834.4 403.4,834.6 404.8,834.7 406.2,834.9 407.6,835.0 409.0,835.1 410.4,835.2 411.8,835.3 413.3,835.3 414.7,835.4 416.1,835.5 417.5,835.5 418.9,835.5 420.3,835.6 421.7,835.6 423.1,835.6 424.5,835.6 425.9,835.6 427.4,835.7 428.8,835.7 430.2,835.7 431.6,835.7 433.0,835.7 434.4,835.7 435.8,835.7 437.2,835.7 438.6,835.7 440.0,835.7 441.5,835.7 442.9,835.7 444.3,835.7 445.7,835.7 447.1,835.7 448.5,835.7 449.9,835.7 451.3,835.7 452.7,835.7 454.2,835.7 455.6,835.7 457.0,835.7 458.4,835.7 459.8,835.7 461.2,835.7 462.6,835.7 464.0,835.7 465.4,835.7 466.8,835.7 468.3,835.7 469.7,835.7 471.1,835.7 472.5,835.7 473.9,835.7 475.3,835.7 476.7,835.7 478.1,835.7 479.5,835.7 481.0,835.7 482.4,835.7 483.8,835.7 485.2,835.7 486.6,835.7 488.0,835.8 489.4,835.8 490.8,835.8 492.2,835.8 493.6,835.8 495.1,835.8 496.5,835.8 497.9,835.8 499.3,835.8 500.7,835.8 502.1,835.8 503.5,835.8 504.9,835.8 506.3,835.8 507.7,835.8 509.2,835.8 510.6,835.8 512.0,835.8 513.4,835.8 514.8,835.8 516.2,835.8 517.6,835.8 519.0,835.8 520.4,835.8 521.9,835.8 523.3,835.8 524.7,835.8 526.1,835.8 527.5,835.8" fill="none" stroke="#505050" stroke-width="1.4" stroke-linejoin="round" stroke-linecap="round" stroke-dasharray="4.2 5"/>
<polyline points="121.3,821.0 122.7,821.0 124.1,821.0 125.5,821.0 126.9,821.0 128.4,821.0 129.8,821.0 131.2,821.0 132.6,821.0 134.0,821.0 135.4,821.0 136.8,821.0 138.2,821.0 139.6,821.0 141.0,821.0 142.5,821.0 143.9,821.0 145.3,821.0 146.7,821.0 148.1,821.0 149.5,821.0 150.9,821.0 152.3,821.0 153.7,821.0 155.1,821.0 156.6,821.0 158.0,821.0 159.4,821.0 160.8,821.0 162.2,821.0 163.6,821.0 165.0,821.0 166.4,821.0 167.8,821.0 169.3,820.9 170.7,820.9 172.1,820.9 173.5,820.9 174.9,820.9 176.3,820.9 177.7,820.8 179.1,820.8 180.5,820.8 181.9,820.7 183.4,820.7 184.8,820.6 186.2,820.5 187.6,820.4 189.0,820.3 190.4,820.2 191.8,820.1 193.2,820.0 194.6,819.8 196.1,819.6 197.5,819.4 198.9,819.2 200.3,818.9 201.7,818.7 203.1,818.4 204.5,818.1 205.9,817.8 207.3,817.4 208.7,817.1 210.2,816.7 211.6,816.3 213.0,815.9 214.4,815.5 215.8,815.1 217.2,814.7 218.6,814.3 220.0,814.0 221.4,813.6 222.8,813.2 224.3,812.9 225.7,812.6 227.1,812.3 228.5,812.0 229.9,811.8 231.3,811.7 232.7,811.5 234.1,811.4 235.5,811.4 237.0,811.4 238.4,811.4 239.8,811.5 241.2,811.7 242.6,811.9 244.0,812.1 245.4,812.3 246.8,812.6 248.2,813.0 249.6,813.3 251.1,813.7 252.5,814.1 253.9,814.5 255.3,814.9 256.7,815.3 258.1,815.8 259.5,816.2 260.9,816.6 262.3,817.0 263.7,817.4 265.2,817.8 266.6,818.2 268.0,818.6 269.4,818.9 270.8,819.2 272.2,819.5 273.6,819.8 275.0,820.1 276.4,820.3 277.9,820.5 279.3,820.7 280.7,820.9 282.1,821.1 283.5,821.2 284.9,821.4 286.3,821.5 287.7,821.6 289.1,821.7 290.5,821.8 292.0,821.8 293.4,821.9 294.8,822.0 296.2,822.0 297.6,822.1 299.0,822.1 300.4,822.1 301.8,822.2 303.2,822.2 304.7,822.2 306.1,822.3 307.5,822.3 308.9,822.3 310.3,822.4 311.7,822.4 313.1,822.4 314.5,822.4 315.9,822.5 317.3,822.5 318.8,822.5 320.2,822.6 321.6,822.6 323.0,822.6 324.4,822.7 325.8,822.7 327.2,822.8 328.6,822.8 330.0,822.9 331.4,822.9 332.9,823.0 334.3,823.0 335.7,823.1 337.1,823.2 338.5,823.2 339.9,823.3 341.3,823.4 342.7,823.4 344.1,823.5 345.6,823.6 347.0,823.7 348.4,823.8 349.8,823.9 351.2,824.0 352.6,824.2 354.0,824.3 355.4,824.5 356.8,824.6 358.2,824.8 359.7,825.0 361.1,825.2 362.5,825.4 363.9,825.6 365.3,825.9 366.7,826.2 368.1,826.5 369.5,826.8 370.9,827.1 372.4,827.4 373.8,827.8 375.2,828.1 376.6,828.5 378.0,828.9 379.4,829.3 380.8,829.7 382.2,830.1 383.6,830.5 385.0,830.9 386.5,831.2 387.9,831.6 389.3,832.0 390.7,832.3 392.1,832.6 393.5,832.9 394.9,833.2 396.3,833.5 397.7,833.8 399.1,834.0 400.6,834.2 402.0,834.4 403.4,834.6 404.8,834.7 406.2,834.9 407.6,835.0 409.0,835.1 410.4,835.2 411.8,835.3 413.3,835.3 414.7,835.4 416.1,835.5 417.5,835.5 418.9,835.5 420.3,835.6 421.7,835.6 423.1,835.6 424.5,835.6 425.9,835.6 427.4,835.7 428.8,835.7 430.2,835.7 431.6,835.7 433.0,835.7 434.4,835.7 435.8,835.7 437.2,835.7 438.6,835.7 440.0,835.7 441.5,835.7 442.9,835.7 444.3,835.7 445.7,835.7 447.1,835.7 448.5,835.7 449.9,835.7 451.3,835.7 452.7,835.7 454.2,835.7 455.6,835.7 457.0,835.7 458.4,835.7 459.8,835.7 461.2,835.7 462.6,835.7 464.0,835.7 465.4,835.7 466.8,835.7 468.3,835.7 469.7,835.7 471.1,835.7 472.5,835.7 473.9,835.7 475.3,835.7 476.7,835.7 478.1,835.7 479.5,835.7 481.0,835.7 482.4,835.7 483.8,835.7 485.2,835.7 486.6,835.7 488.0,835.8 489.4,835.8 490.8,835.8 492.2,835.8 493.6,835.8 495.1,835.8 496.5,835.8 497.9,835.8 499.3,835.8 500.7,835.8 502.1,835.8 503.5,835.8 504.9,835.8 506.3,835.8 507.7,835.8 509.2,835.8 510.6,835.8 512.0,835.8 513.4,835.8 514.8,835.8 516.2,835.8 517.6,835.8 519.0,835.8 520.4,835.8 521.9,835.8 523.3,835.8 524.7,835.8 526.1,835.8 527.5,835.8" fill="none" stroke="#505050" stroke-width="1.4" stroke-linejoin="round" stroke-linecap="round" stroke-dasharray="4.2 5"/>
<polyline points="121.3,820.9 122.7,820.9 124.1,820.9 125.5,820.9 126.9,820.9 128.4,820.9 129.8,820.9 131.2,820.9 132.6,820.9 134.0,820.8 135.4,820.8 136.8,820.8 138.2,820.8 139.6,820.7 141.0,820.7 142.5,820.6 143.9,820.6 145.3,820.5 146.7,820.4 148.1,820.3 149.5,820.2 150.9,820.1 152.3,820.0 153.7,819.9 155.1,819.7 156.6,819.6 158.0,819.4 159.4,819.2 160.8,819.1 162.2,818.9 163.6,818.6 165.0,818.4 166.4,818.2 167.8,817.9 169.3,817.7 170.7,817.4 172.1,817.2 173.5,816.9 174.9,816.7 176.3,816.4 177.7,816.2 179.1,816.0 180.5,815.7 181.9,815.5 183.4,815.4 184.8,815.2 186.2,815.1 187.6,814.9 189.0,814.9 190.4,814.8 191.8,814.8 193.2,814.8 194.6,814.8 196.1,814.8 197.5,814.9 198.9,815.0 200.3,815.2 201.7,815.3 203.1,815.5 204.5,815.7 205.9,815.9 207.3,816.2 208.7,816.4 210.2,816.7 211.6,816.9 213.0,817.2 214.4,817.5 215.8,817.8 217.2,818.0 218.6,818.3 220.0,818.6 221.4,818.8 222.8,819.1 224.3,819.3 225.7,819.5 227.1,819.7 228.5,819.9 229.9,820.1 231.3,820.3 232.7,820.4 234.1,820.6 235.5,820.7 237.0,820.8 238.4,821.0 239.8,821.1 241.2,821.2 242.6,821.2 244.0,821.3 245.4,821.4 246.8,821.4 248.2,821.5 249.6,821.5 251.1,821.6 252.5,821.6 253.9,821.7 255.3,821.7 256.7,821.7 258.1,821.7 259.5,821.8 260.9,821.8 262.3,821.8 263.7,821.8 265.2,821.9 266.6,821.9 268.0,821.9 269.4,821.9 270.8,821.9 272.2,821.9 273.6,822.0 275.0,822.0 276.4,822.0 277.9,822.0 279.3,822.0 280.7,822.0 282.1,822.0 283.5,822.1 284.9,822.1 286.3,822.1 287.7,822.1 289.1,822.1 290.5,822.1 292.0,822.1 293.4,822.2 294.8,822.2 296.2,822.2 297.6,822.2 299.0,822.2 300.4,822.2 301.8,822.3 303.2,822.3 304.7,822.3 306.1,822.3 307.5,822.3 308.9,822.4 310.3,822.4 311.7,822.4 313.1,822.4 314.5,822.4 315.9,822.5 317.3,822.5 318.8,822.5 320.2,822.6 321.6,822.6 323.0,822.6 324.4,822.7 325.8,822.7 327.2,822.8 328.6,822.8 330.0,822.9 331.4,822.9 332.9,823.0 334.3,823.0 335.7,823.1 337.1,823.2 338.5,823.2 339.9,823.3 341.3,823.4 342.7,823.4 344.1,823.5 345.6,823.6 347.0,823.7 348.4,823.8 349.8,823.9 351.2,824.0 352.6,824.2 354.0,824.3 355.4,824.5 356.8,824.6 358.2,824.8 359.7,825.0 361.1,825.2 362.5,825.4 363.9,825.6 365.3,825.9 366.7,826.2 368.1,826.5 369.5,826.8 370.9,827.1 372.4,827.4 373.8,827.8 375.2,828.1 376.6,828.5 378.0,828.9 379.4,829.3 380.8,829.7 382.2,830.1 383.6,830.5 385.0,830.9 386.5,831.2 387.9,831.6 389.3,832.0 390.7,832.3 392.1,832.6 393.5,832.9 394.9,833.2 396.3,833.5 397.7,833.8 399.1,834.0 400.6,834.2 402.0,834.4 403.4,834.6 404.8,834.7 406.2,834.9 407.6,835.0 409.0,835.1 410.4,835.2 411.8,835.3 413.3,835.3 414.7,835.4 416.1,835.5 417.5,835.5 418.9,835.5 420.3,835.6 421.7,835.6 423.1,835.6 424.5,835.6 425.9,835.6 427.4,835.7 428.8,835.7 430.2,835.7 431.6,835.7 433.0,835.7 434.4,835.7 435.8,835.7 437.2,835.7 438.6,835.7 440.0,835.7 441.5,835.7 442.9,835.7 444.3,835.7 445.7,835.7 447.1,835.7 448.5,835.7 449.9,835.7 451.3,835.7 452.7,835.7 454.2,835.7 455.6,835.7 457.0,835.7 458.4,835.7 459.8,835.7 461.2,835.7 462.6,835.7 464.0,835.7 465.4,835.7 466.8,835.7 468.3,835.7 469.7,835.7 471.1,835.7 472.5,835.7 473.9,835.7 475.3,835.7 476.7,835.7 478.1,835.7 479.5,835.7 481.0,835.7 482.4,835.7 483.8,835.7 485.2,835.7 486.6,835.7 488.0,835.8 489.4,835.8 490.8,835.8 492.2,835.8 493.6,835.8 495.1,835.8 496.5,835.8 497.9,835.8 499.3,835.8 500.7,835.8 502.1,835.8 503.5,835.8 504.9,835.8 506.3,835.8 507.7,835.8 509.2,835.8 510.6,835.8 512.0,835.8 513.4,835.8 514.8,835.8 516.2,835.8 517.6,835.8 519.0,835.8 520.4,835.8 521.9,835.8 523.3,835.8 524.7,835.8 526.1,835.8 527.5,835.8" fill="none" stroke="#505050" stroke-width="1.4" stroke-linejoin="round" stroke-linecap="round" stroke-dasharray="4.2 5"/>
<polyline points="71.6,822.5 75.1,822.7 78.6,820.5 82.2,820.4 85.7,819.3 89.2,821.8 92.7,819.7 96.3,820.4 99.8,819.1 103.3,819.0 106.8,821.1 110.4,822.7 113.9,823.7 117.4,822.6 120.9,821.3 124.5,818.9" fill="none" stroke="#3d3d3d" stroke-width="2" stroke-linejoin="round" stroke-linecap="round" />
<polyline points="121.3,821.0 122.7,821.0 124.1,821.0 125.5,821.0 126.9,821.0 128.4,821.0 129.8,821.0 131.2,821.0 132.6,821.0 134.0,821.0 135.4,821.0 136.8,821.0 138.2,821.0 139.6,821.0 141.0,821.0 142.5,821.0 143.9,821.0 145.3,821.0 146.7,821.0 148.1,821.0 149.5,821.0 150.9,821.0 152.3,821.0 153.7,821.0 155.1,821.0 156.6,821.0 158.0,821.0 159.4,821.0 160.8,821.0 162.2,821.0 163.6,821.0 165.0,821.0 166.4,821.0 167.8,821.0 169.3,821.0 170.7,821.0 172.1,821.0 173.5,821.0 174.9,821.0 176.3,821.0 177.7,821.0 179.1,821.0 180.5,821.1 181.9,821.1 183.4,821.1 184.8,821.1 186.2,821.1 187.6,821.1 189.0,821.1 190.4,821.1 191.8,821.1 193.2,821.1 194.6,821.2 196.1,821.2 197.5,821.2 198.9,821.2 200.3,821.2 201.7,821.2 203.1,821.2 204.5,821.2 205.9,821.2 207.3,821.3 208.7,821.3 210.2,821.3 211.6,821.3 213.0,821.3 214.4,821.3 215.8,821.3 217.2,821.3 218.6,821.4 220.0,821.4 221.4,821.4 222.8,821.4 224.3,821.4 225.7,821.4 227.1,821.5 228.5,821.5 229.9,821.5 231.3,821.5 232.7,821.5 234.1,821.5 235.5,821.6 237.0,821.6 238.4,821.6 239.8,821.6 241.2,821.6 242.6,821.6 244.0,821.6 245.4,821.7 246.8,821.7 248.2,821.7 249.6,821.7 251.1,821.7 252.5,821.7 253.9,821.8 255.3,821.8 256.7,821.8 258.1,821.8 259.5,821.8 260.9,821.8 262.3,821.8 263.7,821.9 265.2,821.9 266.6,821.9 268.0,821.9 269.4,821.9 270.8,821.9 272.2,821.9 273.6,822.0 275.0,822.0 276.4,822.0 277.9,822.0 279.3,822.0 280.7,822.0 282.1,822.0 283.5,822.1 284.9,822.1 286.3,822.1 287.7,822.1 289.1,822.1 290.5,822.1 292.0,822.1 293.4,822.2 294.8,822.2 296.2,822.2 297.6,822.2 299.0,822.2 300.4,822.2 301.8,822.3 303.2,822.3 304.7,822.3 306.1,822.3 307.5,822.3 308.9,822.4 310.3,822.4 311.7,822.4 313.1,822.4 314.5,822.4 315.9,822.5 317.3,822.5 318.8,822.5 320.2,822.6 321.6,822.6 323.0,822.6 324.4,822.7 325.8,822.7 327.2,822.8 328.6,822.8 330.0,822.9 331.4,822.9 332.9,823.0 334.3,823.0 335.7,823.1 337.1,823.2 338.5,823.2 339.9,823.3 341.3,823.4 342.7,823.4 344.1,823.5 345.6,823.6 347.0,823.7 348.4,823.8 349.8,823.9 351.2,824.0 352.6,824.2 354.0,824.3 355.4,824.5 356.8,824.6 358.2,824.8 359.7,825.0 361.1,825.2 362.5,825.4 363.9,825.6 365.3,825.9 366.7,826.2 368.1,826.5 369.5,826.8 370.9,827.1 372.4,827.4 373.8,827.8 375.2,828.1 376.6,828.5 378.0,828.9 379.4,829.3 380.8,829.7 382.2,830.1 383.6,830.5 385.0,830.9 386.5,831.2 387.9,831.6 389.3,832.0 390.7,832.3 392.1,832.6 393.5,832.9 394.9,833.2 396.3,833.5 397.7,833.8 399.1,834.0 400.6,834.2 402.0,834.4 403.4,834.6 404.8,834.7 406.2,834.9 407.6,835.0 409.0,835.1 410.4,835.2 411.8,835.3 413.3,835.3 414.7,835.4 416.1,835.5 417.5,835.5 418.9,835.5 420.3,835.6 421.7,835.6 423.1,835.6 424.5,835.6 425.9,835.6 427.4,835.7 428.8,835.7 430.2,835.7 431.6,835.7 433.0,835.7 434.4,835.7 435.8,835.7 437.2,835.7 438.6,835.7 440.0,835.7 441.5,835.7 442.9,835.7 444.3,835.7 445.7,835.7 447.1,835.7 448.5,835.7 449.9,835.7 451.3,835.7 452.7,835.7 454.2,835.7 455.6,835.7 457.0,835.7 458.4,835.7 459.8,835.7 461.2,835.7 462.6,835.7 464.0,835.7 465.4,835.7 466.8,835.7 468.3,835.7 469.7,835.7 471.1,835.7 472.5,835.7 473.9,835.7 475.3,835.7 476.7,835.7 478.1,835.7 479.5,835.7 481.0,835.7 482.4,835.7 483.8,835.7 485.2,835.7 486.6,835.7 488.0,835.8 489.4,835.8 490.8,835.8 492.2,835.8 493.6,835.8 495.1,835.8 496.5,835.8 497.9,835.8 499.3,835.8 500.7,835.8 502.1,835.8 503.5,835.8 504.9,835.8 506.3,835.8 507.7,835.8 509.2,835.8 510.6,835.8 512.0,835.8 513.4,835.8 514.8,835.8 516.2,835.8 517.6,835.8 519.0,835.8 520.4,835.8 521.9,835.8 523.3,835.8 524.7,835.8 526.1,835.8 527.5,835.8" fill="none" stroke="#444" stroke-width="1.6" stroke-linejoin="round" stroke-linecap="round" />
<polyline points="121.3,820.8 122.7,820.8 124.1,820.8 125.5,820.8 126.9,820.8 128.4,820.8 129.8,820.8 131.2,820.7 132.6,820.7 134.0,820.7 135.4,820.7 136.8,820.6 138.2,820.6 139.6,820.6 141.0,820.5 142.5,820.5 143.9,820.4 145.3,820.3 146.7,820.3 148.1,820.2 149.5,820.1 150.9,820.0 152.3,819.9 153.7,819.7 155.1,819.6 156.6,819.4 158.0,819.2 159.4,819.1 160.8,818.9 162.2,818.7 163.6,818.4 165.0,818.2 166.4,818.0 167.8,817.7 169.3,817.4 170.7,817.2 172.1,816.9 173.5,816.6 174.9,816.3 176.3,816.1 177.7,815.8 179.1,815.5 180.5,815.2 181.9,815.0 183.4,814.7 184.8,814.5 186.2,814.3 187.6,814.1 189.0,813.8 190.4,813.7 191.8,813.5 193.2,813.3 194.6,813.2 196.1,813.0 197.5,812.9 198.9,812.8 200.3,812.6 201.7,812.5 203.1,812.4 204.5,812.3 205.9,812.2 207.3,812.0 208.7,811.9 210.2,811.8 211.6,811.6 213.0,811.5 214.4,811.3 215.8,811.2 217.2,811.0 218.6,810.9 220.0,810.7 221.4,810.5 222.8,810.4 224.3,810.2 225.7,810.1 227.1,809.9 228.5,809.8 229.9,809.7 231.3,809.6 232.7,809.6 234.1,809.5 235.5,809.5 237.0,809.5 238.4,809.5 239.8,809.6 241.2,809.7 242.6,809.7 244.0,809.8 245.4,810.0 246.8,810.1 248.2,810.2 249.6,810.4 251.1,810.5 252.5,810.7 253.9,810.8 255.3,810.9 256.7,811.0 258.1,811.2 259.5,811.3 260.9,811.3 262.3,811.4 263.7,811.5 265.2,811.5 266.6,811.5 268.0,811.6 269.4,811.6 270.8,811.6 272.2,811.6 273.6,811.6 275.0,811.5 276.4,811.5 277.9,811.5 279.3,811.5 280.7,811.5 282.1,811.5 283.5,811.4 284.9,811.4 286.3,811.4 287.7,811.4 289.1,811.3 290.5,811.3 292.0,811.2 293.4,811.1 294.8,811.0 296.2,810.8 297.6,810.6 299.0,810.3 300.4,810.0 301.8,809.6 303.2,809.2 304.7,808.7 306.1,808.0 307.5,807.3 308.9,806.6 310.3,805.7 311.7,804.7 313.1,803.7 314.5,802.5 315.9,801.3 317.3,800.0 318.8,798.6 320.2,797.2 321.6,795.7 323.0,794.1 324.4,792.5 325.8,790.8 327.2,789.1 328.6,787.4 330.0,785.6 331.4,783.7 332.9,781.8 334.3,779.8 335.7,777.7 337.1,775.5 338.5,773.1 339.9,770.4 341.3,767.6 342.7,764.4 344.1,760.8 345.6,756.8 347.0,752.3 348.4,747.2 349.8,741.4 351.2,735.0 352.6,727.8 354.0,719.9 355.4,711.1 356.8,701.6 358.2,691.4 359.7,680.5 361.1,669.0 362.5,657.1 363.9,644.7 365.3,632.3 366.7,619.8 368.1,607.5 369.5,595.6 370.9,584.4 372.4,574.1 373.8,564.9 375.2,557.0 376.6,550.6 378.0,545.9 379.4,543.0 380.8,542.0 382.2,543.0 383.6,545.9 385.0,550.8 386.5,557.5 387.9,565.8 389.3,575.8 390.7,587.1 392.1,599.5 393.5,612.8 394.9,626.9 396.3,641.3 397.7,656.0 399.1,670.8 400.6,685.3 402.0,699.5 403.4,713.2 404.8,726.2 406.2,738.5 407.6,750.0 409.0,760.6 410.4,770.3 411.8,779.2 413.3,787.1 414.7,794.1 416.1,800.4 417.5,805.8 418.9,810.6 420.3,814.7 421.7,818.2 423.1,821.1 424.5,823.6 425.9,825.7 427.4,827.4 428.8,828.9 430.2,830.0 431.6,831.0 433.0,831.7 434.4,832.4 435.8,832.9 437.2,833.3 438.6,833.6 440.0,833.8 441.5,834.0 442.9,834.2 444.3,834.3 445.7,834.4 447.1,834.5 448.5,834.6 449.9,834.7 451.3,834.7 452.7,834.8 454.2,834.8 455.6,834.8 457.0,834.9 458.4,834.9 459.8,834.9 461.2,835.0 462.6,835.0 464.0,835.0 465.4,835.0 466.8,835.0 468.3,835.1 469.7,835.1 471.1,835.1 472.5,835.1 473.9,835.1 475.3,835.2 476.7,835.2 478.1,835.2 479.5,835.2 481.0,835.2 482.4,835.2 483.8,835.2 485.2,835.3 486.6,835.3 488.0,835.3 489.4,835.3 490.8,835.3 492.2,835.3 493.6,835.3 495.1,835.3 496.5,835.3 497.9,835.4 499.3,835.4 500.7,835.4 502.1,835.4 503.5,835.4 504.9,835.4 506.3,835.4 507.7,835.4 509.2,835.4 510.6,835.4 512.0,835.4 513.4,835.4 514.8,835.4 516.2,835.5 517.6,835.5 519.0,835.5 520.4,835.5 521.9,835.5 523.3,835.5 524.7,835.5 526.1,835.5 527.5,835.5" fill="none" stroke="#4a4a4a" stroke-width="2.1" stroke-linejoin="round" stroke-linecap="round" />
<polyline points="71.2,867.9 73.0,867.4 74.7,868.1 76.5,867.2 78.2,867.7 80.0,868.7 81.8,868.0 83.5,869.0 85.3,870.1 87.0,870.1 88.8,869.5 90.6,870.0 92.3,869.4 94.1,868.4 95.8,868.4 97.6,869.2 99.4,868.9 101.1,867.6 102.9,869.2 104.6,868.7 106.4,868.9 108.2,867.8 109.9,867.6 111.7,867.0 113.4,868.6 115.2,867.2 117.0,868.4 118.7,867.6 120.5,868.3 122.2,867.7 124.0,868.6 125.8,869.1 127.5,867.5 129.3,868.3 131.0,867.5 132.8,866.3 134.6,866.2 136.3,865.8 138.1,865.7 139.8,865.1 141.6,864.6 143.4,864.5 145.1,864.1 146.9,864.2 148.6,865.0 150.4,865.7 152.2,864.7 153.9,865.6 155.7,864.4 157.4,863.4 159.2,863.5 161.0,861.9 162.7,862.4 164.5,861.4 166.2,862.1 168.0,862.0 169.8,861.8 171.5,862.6 173.3,862.4 175.0,862.8 176.8,862.6 178.6,862.2 180.3,862.7 182.1,862.7 183.8,863.0 185.6,862.0 187.4,862.3 189.1,861.3 190.9,862.4 192.6,861.4 194.4,861.0 196.2,861.7 197.9,862.2 199.7,860.8 201.4,861.1 203.2,861.2 205.0,861.0 206.7,861.8 208.5,861.2 210.2,861.1 212.0,861.5 213.8,860.5 215.5,860.8 217.3,859.8 219.0,859.4 220.8,859.2 222.6,861.4 224.3,860.6 226.1,861.2 227.8,861.3 229.6,861.6 231.4,861.3 233.1,861.9 234.9,860.1 236.6,859.6 238.4,859.4 240.2,858.8 241.9,859.5 243.7,859.1 245.4,858.4 247.2,858.5 249.0,859.3 250.7,860.5 252.5,858.6 254.2,860.5 256.0,860.0 257.8,861.2 259.5,860.5 261.3,861.4 263.0,861.3 264.8,862.0 266.6,863.7 268.3,863.9 270.1,863.7 271.8,863.9 273.6,863.9 275.4,865.3 277.1,866.1 278.9,866.6 280.6,867.1 282.4,866.5 284.2,866.9 285.9,866.8 287.7,867.3 289.4,867.5 291.2,866.6 293.0,866.6 294.7,867.2 296.5,867.2 298.2,867.4 300.0,868.0 301.8,867.7 303.5,868.7 305.3,868.6 307.0,869.0 308.8,868.6 310.6,868.1 312.3,867.8 314.1,867.9 315.8,867.6 317.6,867.8 319.4,867.6 321.1,866.8 322.9,867.4 324.6,866.6 326.4,866.9 328.2,867.1 329.9,866.2 331.7,867.2 333.4,867.3 335.2,867.0 337.0,866.8 338.7,866.7 340.5,866.2 342.2,866.5 344.0,866.2 345.8,866.4 347.5,865.6 349.3,866.2 351.0,866.0 352.8,865.7 354.6,865.6 356.3,866.3 358.1,865.4 359.8,866.7 361.6,866.8 363.4,867.0 365.1,867.0 366.9,866.4 368.6,866.5 370.4,866.9 372.2,866.7 373.9,866.8 375.7,866.2 377.4,867.5 379.2,868.1 381.0,868.3 382.7,868.3 384.5,867.7 386.2,869.3 388.0,869.1 389.8,868.3 391.5,869.9 393.3,869.1 395.0,869.3 396.8,869.7 398.6,870.5 400.3,869.3 402.1,869.3 403.8,869.7 405.6,869.3 407.4,868.2 409.1,868.2 410.9,867.8 412.6,868.3 414.4,868.9 416.2,869.1 417.9,868.9 419.7,869.3 421.4,868.3 423.2,868.5 425.0,868.8 426.7,868.7 428.5,869.4 430.2,869.4 432.0,869.5 433.8,870.2 435.5,869.9 437.3,869.6 439.0,870.4 440.8,869.8 442.6,869.7 444.3,868.4 446.1,868.7 447.8,868.5 449.6,868.3 451.4,867.8 453.1,869.1 454.9,870.1 456.6,870.2 458.4,870.0 460.2,870.7 461.9,871.2 463.7,869.4 465.4,870.7 467.2,871.1 469.0,871.1 470.7,871.7 472.5,871.1 474.2,870.4 476.0,870.0 477.8,869.9 479.5,869.0 481.3,868.9 483.0,869.2 484.8,870.0 486.6,869.1 488.3,869.4 490.1,869.7 491.8,869.8 493.6,868.7 495.4,869.0 497.1,867.4 498.9,868.7 500.6,869.5 502.4,870.9 504.2,871.8 505.9,870.4 507.7,870.5 509.4,871.0 511.2,870.3 513.0,869.8 514.7,870.9 516.5,870.6 518.2,870.6 520.0,870.2 521.8,870.9 523.5,870.3 525.3,870.9" fill="none" stroke="#18ec18" stroke-width="5.4" stroke-linejoin="round" stroke-linecap="round" />
</g>
<rect x="66.6" y="11.2" width="461.8" height="385.7" fill="none" stroke="#000" stroke-width="1.6"/>
<rect x="66.6" y="495.8" width="465.4" height="388.3" fill="none" stroke="#000" stroke-width="1.6"/>
<path d="M56.5 57.20H66.6M56.5 141.10H66.6M56.5 225.00H66.6M56.5 308.90H66.6M56.5 392.80H66.6" stroke="#000" stroke-width="1.5" fill="none"/>
<path d="M56.5 499.20H66.6M56.5 552.14H66.6M56.5 605.08H66.6M56.5 658.02H66.6M56.5 710.96H66.6M56.5 763.90H66.6M56.5 816.84H66.6M56.5 869.78H66.6" stroke="#000" stroke-width="1.5" fill="none"/>
<path d="M70.37 396.9v7.5M77.36 396.9v5.3M84.34 396.9v5.3M91.33 396.9v5.3M98.31 396.9v5.3M105.30 396.9v9.8M112.29 396.9v5.3M119.27 396.9v5.3M126.26 396.9v5.3M133.24 396.9v5.3M140.23 396.9v7.5M147.22 396.9v5.3M154.20 396.9v5.3M161.19 396.9v5.3M168.17 396.9v5.3M175.16 396.9v9.8M182.15 396.9v5.3M189.13 396.9v5.3M196.12 396.9v5.3M203.10 396.9v5.3M210.09 396.9v7.5M217.08 396.9v5.3M224.06 396.9v5.3M231.05 396.9v5.3M238.03 396.9v5.3M245.02 396.9v9.8M252.01 396.9v5.3M258.99 396.9v5.3M265.98 396.9v5.3M272.96 396.9v5.3M279.95 396.9v7.5M286.94 396.9v5.3M293.92 396.9v5.3M300.91 396.9v5.3M307.89 396.9v5.3M314.88 396.9v9.8M321.87 396.9v5.3M328.85 396.9v5.3M335.84 396.9v5.3M342.82 396.9v5.3M349.81 396.9v7.5M356.80 396.9v5.3M363.78 396.9v5.3M370.77 396.9v5.3M377.75 396.9v5.3M384.74 396.9v9.8M391.73 396.9v5.3M398.71 396.9v5.3M405.70 396.9v5.3M412.68 396.9v5.3M419.67 396.9v7.5M426.66 396.9v5.3M433.64 396.9v5.3M440.63 396.9v5.3M447.61 396.9v5.3M454.60 396.9v9.8M461.59 396.9v5.3M468.57 396.9v5.3M475.56 396.9v5.3M482.54 396.9v5.3M489.53 396.9v7.5M496.52 396.9v5.3M503.50 396.9v5.3M510.49 396.9v5.3M517.47 396.9v5.3M524.46 396.9v9.8" stroke="#000" stroke-width="1.5" fill="none"/>
<text x="105.30" y="428.8" text-anchor="middle" font-size="18.6" font-family="'Liberation Sans', Arial, sans-serif">466</text>
<text x="175.16" y="428.8" text-anchor="middle" font-size="18.6" font-family="'Liberation Sans', Arial, sans-serif">464</text>
<text x="245.02" y="428.8" text-anchor="middle" font-size="18.6" font-family="'Liberation Sans', Arial, sans-serif">462</text>
<text x="314.88" y="428.8" text-anchor="middle" font-size="18.6" font-family="'Liberation Sans', Arial, sans-serif">460</text>
<text x="384.74" y="428.8" text-anchor="middle" font-size="18.6" font-family="'Liberation Sans', Arial, sans-serif">458</text>
<text x="454.60" y="428.8" text-anchor="middle" font-size="18.6" font-family="'Liberation Sans', Arial, sans-serif">456</text>
<text x="524.46" y="428.8" text-anchor="middle" font-size="18.6" font-family="'Liberation Sans', Arial, sans-serif">454</text>
<path d="M69.82 884.1v7.5M76.87 884.1v5.3M83.92 884.1v5.3M90.98 884.1v5.3M98.03 884.1v5.3M105.08 884.1v9.8M112.13 884.1v5.3M119.18 884.1v5.3M126.24 884.1v5.3M133.29 884.1v5.3M140.34 884.1v7.5M147.39 884.1v5.3M154.44 884.1v5.3M161.50 884.1v5.3M168.55 884.1v5.3M175.60 884.1v9.8M182.65 884.1v5.3M189.70 884.1v5.3M196.76 884.1v5.3M203.81 884.1v5.3M210.86 884.1v7.5M217.91 884.1v5.3M224.96 884.1v5.3M232.02 884.1v5.3M239.07 884.1v5.3M246.12 884.1v9.8M253.17 884.1v5.3M260.22 884.1v5.3M267.28 884.1v5.3M274.33 884.1v5.3M281.38 884.1v7.5M288.43 884.1v5.3M295.48 884.1v5.3M302.54 884.1v5.3M309.59 884.1v5.3M316.64 884.1v9.8M323.69 884.1v5.3M330.74 884.1v5.3M337.80 884.1v5.3M344.85 884.1v5.3M351.90 884.1v7.5M358.95 884.1v5.3M366.00 884.1v5.3M373.06 884.1v5.3M380.11 884.1v5.3M387.16 884.1v9.8M394.21 884.1v5.3M401.26 884.1v5.3M408.32 884.1v5.3M415.37 884.1v5.3M422.42 884.1v7.5M429.47 884.1v5.3M436.52 884.1v5.3M443.58 884.1v5.3M450.63 884.1v5.3M457.68 884.1v9.8M464.73 884.1v5.3M471.78 884.1v5.3M478.84 884.1v5.3M485.89 884.1v5.3M492.94 884.1v7.5M499.99 884.1v5.3M507.04 884.1v5.3M514.10 884.1v5.3M521.15 884.1v5.3M528.20 884.1v9.8" stroke="#000" stroke-width="1.5" fill="none"/>
<text x="105.08" y="916.8" text-anchor="middle" font-size="18.6" font-family="'Liberation Sans', Arial, sans-serif">404</text>
<text x="175.60" y="916.8" text-anchor="middle" font-size="18.6" font-family="'Liberation Sans', Arial, sans-serif">402</text>
<text x="246.12" y="916.8" text-anchor="middle" font-size="18.6" font-family="'Liberation Sans', Arial, sans-serif">400</text>
<text x="316.64" y="916.8" text-anchor="middle" font-size="18.6" font-family="'Liberation Sans', Arial, sans-serif">398</text>
<text x="387.16" y="916.8" text-anchor="middle" font-size="18.6" font-family="'Liberation Sans', Arial, sans-serif">396</text>
<text x="457.68" y="916.8" text-anchor="middle" font-size="18.6" font-family="'Liberation Sans', Arial, sans-serif">394</text>
<text x="528.20" y="916.8" text-anchor="middle" font-size="18.6" font-family="'Liberation Sans', Arial, sans-serif">392</text>
<text x="202.2" y="455.6" font-size="20" font-weight="bold" font-family="'Liberation Sans', Arial, sans-serif">Binding Energy (eV)</text>
<text x="202.8" y="939.4" font-size="20.2" font-weight="bold" font-family="'Liberation Sans', Arial, sans-serif">Binding Energy (eV)</text>
<text transform="translate(33.1 299.4) rotate(-90)" font-size="20" font-weight="bold" font-family="'Liberation Sans', Arial, sans-serif">Normalized Intensity</text>
<text transform="translate(33 768.3) rotate(-90)" font-size="20.2" font-weight="bold" font-family="'Liberation Sans', Arial, sans-serif">Intensity (CPS)</text>
<text x="7" y="23.8" font-size="19" font-weight="bold" font-family="'Liberation Sans', Arial, sans-serif">a.)</text>
<text x="24.6" y="507.9" font-size="19" font-weight="bold" font-family="'Liberation Sans', Arial, sans-serif">b.)</text>
<circle cx="87.1" cy="29.5" r="3" fill="#18ec18"/><circle cx="87.3" cy="60.6" r="2.6" fill="#7272f2"/>
<text x="115.6" y="37.7" font-size="19" font-weight="bold" font-family="'Liberation Sans', Arial, sans-serif">AD, PVD TiO<tspan font-size="14" dx="1" dy="5.8">2</tspan></text>
<text x="115.6" y="68.7" font-size="19" font-weight="bold" font-family="'Liberation Sans', Arial, sans-serif">AD, ALD TiO<tspan font-size="14" dx="1" dy="5.8">2</tspan></text>
<circle cx="78.2" cy="514" r="2.8" fill="#18ec18"/><circle cx="78.2" cy="540.5" r="2.5" fill="#7272f2"/>
<text x="107.3" y="522" font-size="19" font-weight="bold" font-family="'Liberation Sans', Arial, sans-serif">AD, PVD TiO<tspan font-size="14" dx="1" dy="5.8">2</tspan></text>
<text x="107.3" y="548.7" font-size="19" font-weight="bold" font-family="'Liberation Sans', Arial, sans-serif">AD, ALD TiO<tspan font-size="14" dx="1" dy="5.8">2</tspan></text>
<text x="474" y="34.1" font-size="18.75" font-weight="bold" font-family="'Liberation Sans', Arial, sans-serif">Ti 2p</text>
<text x="482.5" y="519.1" font-size="18.75" font-weight="bold" font-family="'Liberation Sans', Arial, sans-serif">N 1s</text>
<rect x="345" y="18.3" width="42" height="25" fill="#fff"/>
<text x="150.4" y="131.6" font-size="18.75" font-weight="bold" font-family="'Liberation Sans', Arial, sans-serif">TiO<tspan font-size="13.5" dx="0.6" dy="6">2</tspan></text>
<text x="347.1" y="35.2" font-size="18.75" font-weight="bold" font-family="'Liberation Sans', Arial, sans-serif">TiO<tspan font-size="13.5" dx="0.6" dy="6">2</tspan></text>
<text x="205.3" y="153.2" font-size="18.75" font-weight="bold" font-family="'Liberation Sans', Arial, sans-serif">Ti-O-N</text>
<text x="387" y="101.1" font-size="18.75" font-weight="bold" font-family="'Liberation Sans', Arial, sans-serif">Ti-O-N</text>
<text x="262" y="176.3" font-size="18.75" font-weight="bold" font-family="'Liberation Sans', Arial, sans-serif">Ti-N</text>
<text x="459" y="179.5" font-size="18.75" font-weight="bold" font-family="'Liberation Sans', Arial, sans-serif">Ti-N</text>
<text x="353.6" y="522.5" font-size="18.75" font-weight="bold" font-family="'Liberation Sans', Arial, sans-serif">Ti-O-N</text>
<text x="318.5" y="655.6" font-size="18.75" font-weight="bold" font-family="'Liberation Sans', Arial, sans-serif">Ti-N</text>
<text x="156.5" y="737.9" font-size="18.75" font-weight="bold" font-family="'Liberation Sans', Arial, sans-serif">N-O</text>
<text x="210.7" y="706" font-size="18.75" font-weight="bold" font-family="'Liberation Sans', Arial, sans-serif">C=N</text>
<text x="263.2" y="732.4" font-size="18.75" font-weight="bold" font-family="'Liberation Sans', Arial, sans-serif">C-N</text>
</svg></body></html>
